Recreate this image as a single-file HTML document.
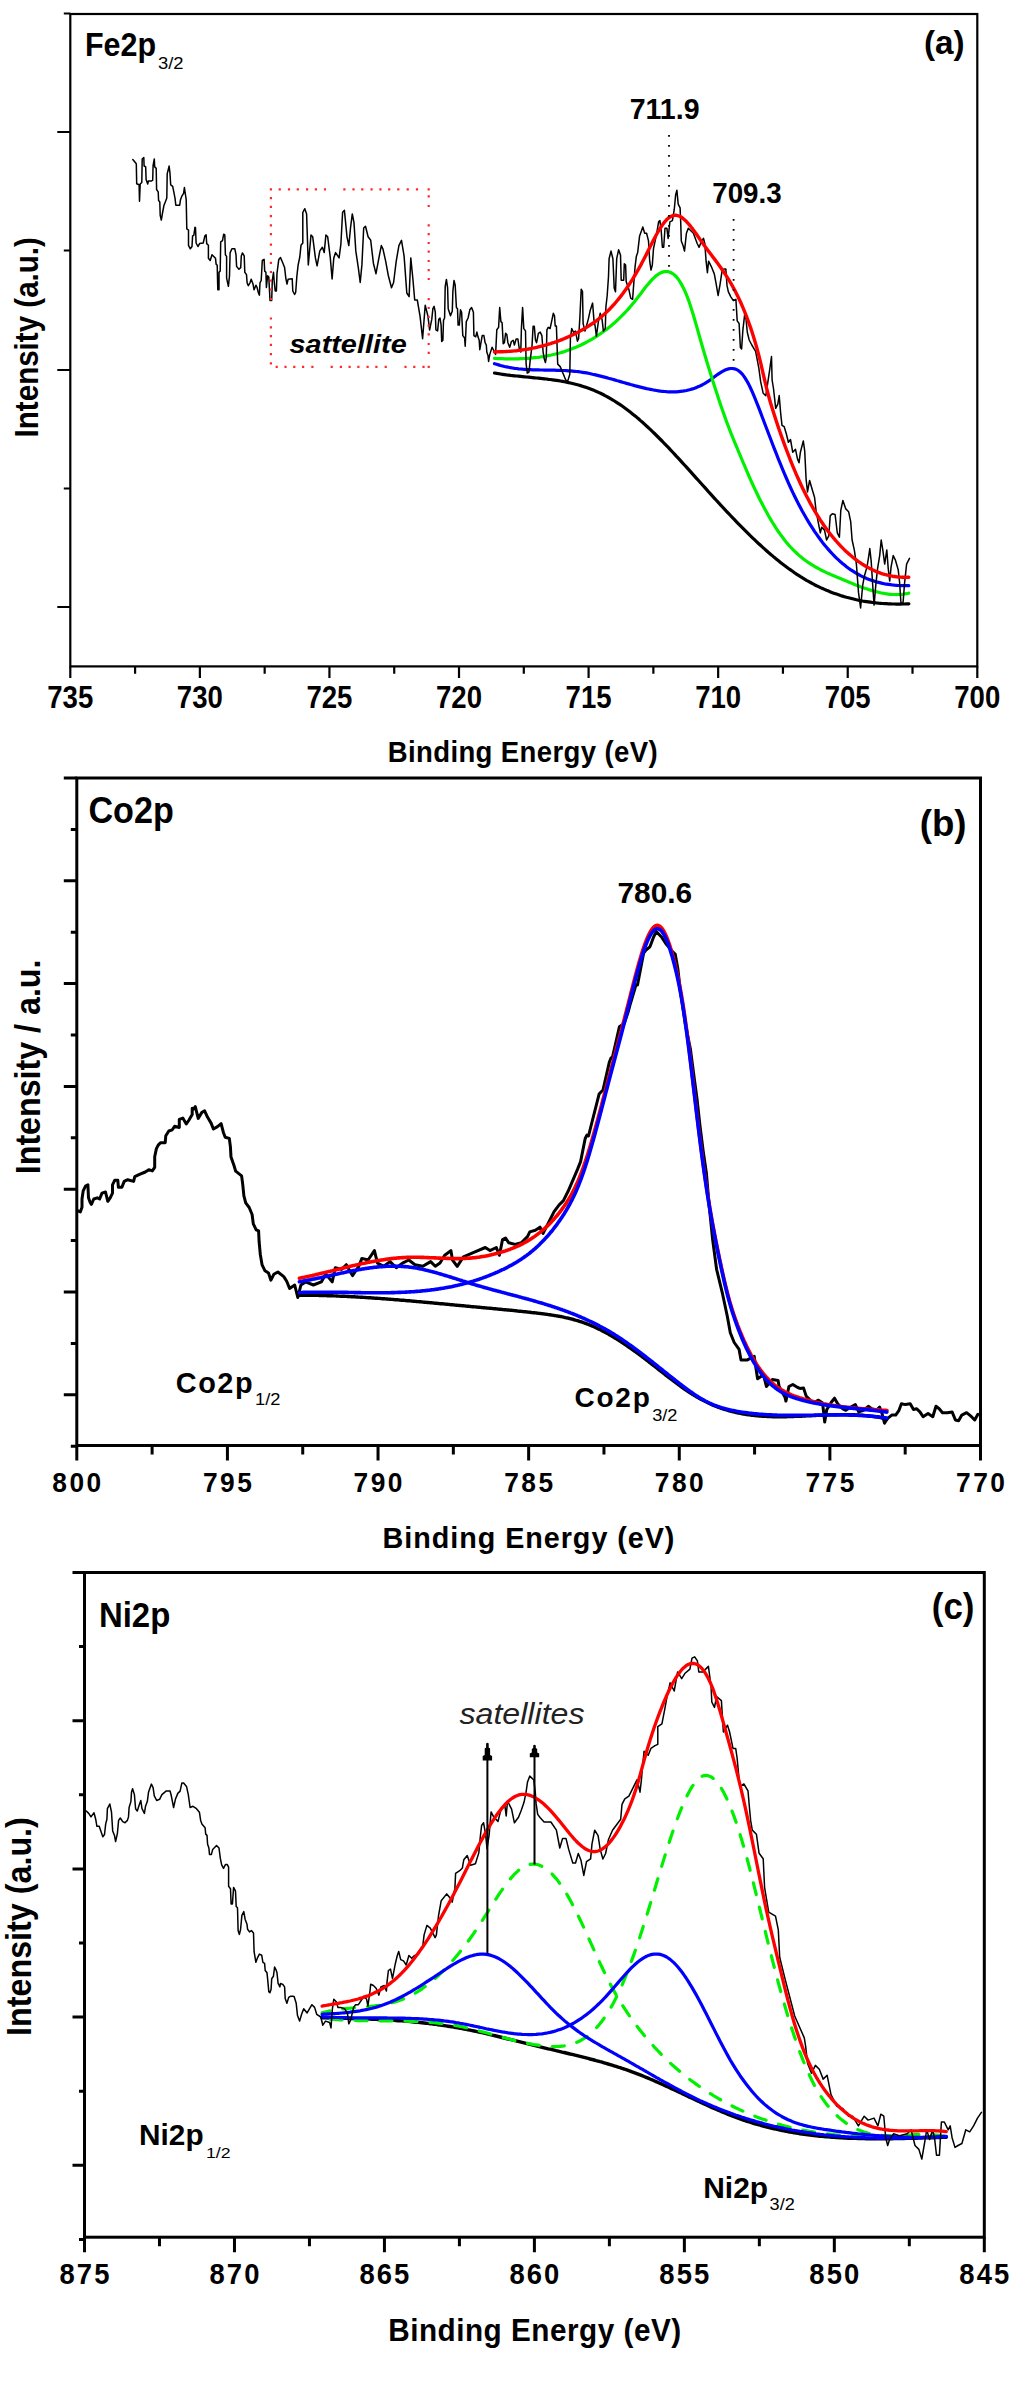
<!DOCTYPE html>
<html><head><meta charset="utf-8"><title>XPS spectra Fe2p Co2p Ni2p</title>
<style>html,body{margin:0;padding:0;background:#fff;}body{width:1024px;height:2381px;overflow:hidden;}svg{display:block;}</style>
</head><body><svg width="1024" height="2381" viewBox="0 0 1024 2381" font-family="Liberation Sans, Arial, sans-serif"><rect x="70.3" y="14.0" width="907.00" height="652.40" fill="none" stroke="#000" stroke-width="2.2"/><path d="M70.30,666.40v11.6M135.09,666.40v7.3M199.87,666.40v11.6M264.66,666.40v7.3M329.44,666.40v11.6M394.23,666.40v7.3M459.01,666.40v11.6M523.80,666.40v7.3M588.59,666.40v11.6M653.37,666.40v7.3M718.16,666.40v11.6M782.94,666.40v7.3M847.73,666.40v11.6M912.51,666.40v7.3M977.30,666.40v11.6M70.30,132.00h-13M70.30,370.00h-13M70.30,607.00h-13M70.30,13.50h-6.5M70.30,250.50h-6.5M70.30,488.50h-6.5" stroke="#000" stroke-width="2.2" fill="none"/><rect x="76.8" y="778.0" width="903.70" height="667.50" fill="none" stroke="#000" stroke-width="3.0"/><path d="M76.80,1445.50v15M152.11,1445.50v9M227.42,1445.50v15M302.73,1445.50v9M378.03,1445.50v15M453.34,1445.50v9M528.65,1445.50v15M603.96,1445.50v9M679.27,1445.50v15M754.58,1445.50v9M829.88,1445.50v15M905.19,1445.50v9M980.50,1445.50v15M76.80,778.00h-13M76.80,880.80h-13M76.80,983.60h-13M76.80,1086.40h-13M76.80,1189.20h-13M76.80,1292.00h-13M76.80,1394.80h-13M76.80,829.40h-6M76.80,932.20h-6M76.80,1035.00h-6M76.80,1137.80h-6M76.80,1240.60h-6M76.80,1343.40h-6M76.80,1446.20h-6" stroke="#000" stroke-width="3.0" fill="none"/><rect x="84.5" y="1572.5" width="899.80" height="664.70" fill="none" stroke="#000" stroke-width="3.0"/><path d="M84.50,2237.20v15M159.48,2237.20v9M234.47,2237.20v15M309.45,2237.20v9M384.43,2237.20v15M459.42,2237.20v9M534.40,2237.20v15M609.38,2237.20v9M684.37,2237.20v15M759.35,2237.20v9M834.33,2237.20v15M909.32,2237.20v9M984.30,2237.20v15M84.50,1572.50h-12M84.50,1720.70h-12M84.50,1868.90h-12M84.50,2017.10h-12M84.50,2165.30h-12M84.50,1646.60h-5.5M84.50,1794.80h-5.5M84.50,1943.00h-5.5M84.50,2091.20h-5.5M84.50,2239.40h-5.5" stroke="#000" stroke-width="3.0" fill="none"/><path d="M494.5,373.0 L496.5,373.3 L498.5,373.7 L500.5,374.0 L502.5,374.3 L504.5,374.6 L506.5,374.9 L508.5,375.1 L510.5,375.4 L512.5,375.6 L514.5,375.8 L516.5,376.0 L518.5,376.2 L520.5,376.4 L522.5,376.6 L524.5,376.8 L526.5,377.0 L528.5,377.2 L530.5,377.4 L532.5,377.6 L534.5,377.8 L536.5,378.0 L538.5,378.2 L540.5,378.4 L542.5,378.6 L544.5,378.8 L546.5,379.0 L548.5,379.3 L550.5,379.5 L552.5,379.8 L554.5,380.1 L556.5,380.4 L558.5,380.7 L560.5,381.0 L562.5,381.4 L564.5,381.8 L566.5,382.2 L568.5,382.6 L570.5,383.0 L572.5,383.5 L574.5,384.0 L576.5,384.5 L578.5,385.0 L580.5,385.6 L582.5,386.2 L584.5,386.9 L586.5,387.5 L588.5,388.2 L590.5,389.0 L592.5,389.8 L594.5,390.6 L596.5,391.5 L598.5,392.4 L600.5,393.3 L602.5,394.3 L604.5,395.3 L606.5,396.4 L608.5,397.5 L610.5,398.6 L612.5,399.8 L614.5,401.0 L616.5,402.3 L618.5,403.6 L620.5,404.9 L622.5,406.3 L624.5,407.7 L626.5,409.2 L628.5,410.7 L630.5,412.3 L632.5,413.9 L634.5,415.5 L636.5,417.1 L638.5,418.8 L640.5,420.6 L642.5,422.3 L644.5,424.1 L646.5,426.0 L648.5,427.8 L650.5,429.7 L652.5,431.6 L654.5,433.5 L656.5,435.5 L658.5,437.5 L660.5,439.5 L662.5,441.5 L664.5,443.6 L666.5,445.7 L668.5,447.7 L670.5,449.9 L672.5,452.0 L674.5,454.1 L676.5,456.3 L678.5,458.4 L680.5,460.6 L682.5,462.8 L684.5,465.0 L686.5,467.2 L688.5,469.4 L690.5,471.6 L692.5,473.8 L694.5,476.1 L696.5,478.3 L698.5,480.5 L700.5,482.8 L702.5,485.0 L704.5,487.2 L706.5,489.4 L708.5,491.7 L710.5,493.9 L712.5,496.1 L714.5,498.3 L716.5,500.5 L718.5,502.7 L720.5,504.8 L722.5,507.0 L724.5,509.2 L726.5,511.3 L728.5,513.4 L730.5,515.5 L732.5,517.7 L734.5,519.7 L736.5,521.8 L738.5,523.9 L740.5,525.9 L742.5,527.9 L744.5,529.9 L746.5,531.9 L748.5,533.9 L750.5,535.9 L752.5,537.8 L754.5,539.7 L756.5,541.6 L758.5,543.5 L760.5,545.3 L762.5,547.1 L764.5,548.9 L766.5,550.7 L768.5,552.5 L770.5,554.2 L772.5,555.9 L774.5,557.6 L776.5,559.2 L778.5,560.8 L780.5,562.4 L782.5,564.0 L784.5,565.5 L786.5,567.0 L788.5,568.5 L790.5,569.9 L792.5,571.3 L794.5,572.7 L796.5,574.1 L798.5,575.4 L800.5,576.7 L802.5,577.9 L804.5,579.1 L806.5,580.3 L808.5,581.4 L810.5,582.5 L812.5,583.6 L814.5,584.7 L816.5,585.7 L818.5,586.6 L820.5,587.6 L822.5,588.5 L824.5,589.4 L826.5,590.3 L828.5,591.1 L830.5,591.9 L832.5,592.7 L834.5,593.4 L836.5,594.1 L838.5,594.8 L840.5,595.5 L842.5,596.1 L844.5,596.7 L846.5,597.3 L848.5,597.8 L850.5,598.3 L852.5,598.8 L854.5,599.3 L856.5,599.8 L858.5,600.2 L860.5,600.6 L862.5,601.0 L864.5,601.3 L866.5,601.6 L868.5,601.9 L870.5,602.2 L872.5,602.5 L874.5,602.7 L876.5,603.0 L878.5,603.2 L880.5,603.3 L882.5,603.5 L884.5,603.6 L886.5,603.7 L888.5,603.8 L890.5,603.9 L892.5,604.0 L894.5,604.0 L896.5,604.1 L898.5,604.1 L900.5,604.1 L902.5,604.0 L904.5,604.0 L906.5,603.9 L908.5,603.9 L908.8,603.8" fill="none" stroke="#000" stroke-width="3.2" stroke-linejoin="round" stroke-linecap="round" /><path d="M494.5,363.7 L496.5,364.3 L498.5,364.9 L500.5,365.5 L502.5,366.0 L504.5,366.5 L506.5,366.9 L508.5,367.3 L510.5,367.7 L512.5,368.0 L514.5,368.3 L516.5,368.5 L518.5,368.8 L520.5,369.0 L522.5,369.2 L524.5,369.3 L526.5,369.5 L528.5,369.6 L530.5,369.7 L532.5,369.8 L534.5,369.8 L536.5,369.9 L538.5,369.9 L540.5,370.0 L542.5,370.0 L544.5,370.1 L546.5,370.1 L548.5,370.1 L550.5,370.1 L552.5,370.2 L554.5,370.2 L556.5,370.3 L558.5,370.3 L560.5,370.4 L562.5,370.5 L564.5,370.5 L566.5,370.6 L568.5,370.8 L570.5,370.9 L572.5,371.1 L574.5,371.3 L576.5,371.5 L578.5,371.7 L580.5,372.0 L582.5,372.3 L584.5,372.6 L586.5,372.9 L588.5,373.3 L590.5,373.7 L592.5,374.2 L594.5,374.6 L596.5,375.1 L598.5,375.6 L600.5,376.1 L602.5,376.6 L604.5,377.1 L606.5,377.6 L608.5,378.2 L610.5,378.7 L612.5,379.3 L614.5,379.9 L616.5,380.5 L618.5,381.0 L620.5,381.6 L622.5,382.2 L624.5,382.8 L626.5,383.4 L628.5,383.9 L630.5,384.5 L632.5,385.0 L634.5,385.6 L636.5,386.1 L638.5,386.6 L640.5,387.1 L642.5,387.6 L644.5,388.1 L646.5,388.6 L648.5,389.0 L650.5,389.4 L652.5,389.8 L654.5,390.2 L656.5,390.5 L658.5,390.8 L660.5,391.1 L662.5,391.3 L664.5,391.5 L666.5,391.7 L668.5,391.8 L670.5,391.8 L672.5,391.9 L674.5,391.8 L676.5,391.8 L678.5,391.6 L680.5,391.4 L682.5,391.2 L684.5,390.8 L686.5,390.5 L688.5,390.0 L690.5,389.5 L692.5,388.9 L694.5,388.2 L696.5,387.4 L698.5,386.6 L700.5,385.7 L702.5,384.7 L704.5,383.6 L706.5,382.4 L708.5,381.1 L710.5,379.7 L712.5,378.3 L714.5,376.8 L716.5,375.3 L718.5,373.9 L720.5,372.6 L722.5,371.4 L724.5,370.3 L726.5,369.5 L728.5,368.9 L730.5,368.5 L732.5,368.5 L734.5,368.8 L736.5,369.5 L738.5,370.7 L740.5,372.3 L742.5,374.4 L744.5,377.1 L746.5,380.3 L748.5,383.9 L750.5,388.0 L752.5,392.4 L754.5,397.1 L756.5,402.1 L758.5,407.2 L760.5,412.4 L762.5,417.7 L764.5,423.0 L766.5,428.2 L768.5,433.5 L770.5,438.7 L772.5,444.0 L774.5,449.1 L776.5,454.2 L778.5,459.3 L780.5,464.2 L782.5,469.1 L784.5,473.9 L786.5,478.5 L788.5,483.1 L790.5,487.5 L792.5,491.8 L794.5,496.0 L796.5,500.0 L798.5,504.0 L800.5,507.8 L802.5,511.5 L804.5,515.0 L806.5,518.5 L808.5,521.9 L810.5,525.1 L812.5,528.2 L814.5,531.3 L816.5,534.2 L818.5,537.0 L820.5,539.7 L822.5,542.4 L824.5,544.9 L826.5,547.3 L828.5,549.6 L830.5,551.9 L832.5,554.0 L834.5,556.1 L836.5,558.1 L838.5,559.9 L840.5,561.8 L842.5,563.5 L844.5,565.1 L846.5,566.7 L848.5,568.2 L850.5,569.6 L852.5,570.9 L854.5,572.2 L856.5,573.4 L858.5,574.5 L860.5,575.6 L862.5,576.6 L864.5,577.5 L866.5,578.4 L868.5,579.2 L870.5,579.9 L872.5,580.6 L874.5,581.3 L876.5,581.9 L878.5,582.4 L880.5,582.9 L882.5,583.4 L884.5,583.8 L886.5,584.1 L888.5,584.4 L890.5,584.7 L892.5,585.0 L894.5,585.2 L896.5,585.3 L898.5,585.5 L900.5,585.6 L902.5,585.6 L904.5,585.7 L906.5,585.7 L908.5,585.7 L908.8,585.7" fill="none" stroke="#0000ff" stroke-width="3.2" stroke-linejoin="round" stroke-linecap="round" /><path d="M494.5,358.4 L496.5,358.5 L498.5,358.6 L500.5,358.7 L502.5,358.7 L504.5,358.8 L506.5,358.8 L508.5,358.9 L510.5,358.9 L512.5,358.9 L514.5,358.9 L516.5,358.8 L518.5,358.8 L520.5,358.7 L522.5,358.6 L524.5,358.5 L526.5,358.4 L528.5,358.3 L530.5,358.1 L532.5,357.9 L534.5,357.7 L536.5,357.5 L538.5,357.3 L540.5,357.0 L542.5,356.7 L544.5,356.3 L546.5,356.0 L548.5,355.6 L550.5,355.2 L552.5,354.7 L554.5,354.3 L556.5,353.8 L558.5,353.2 L560.5,352.7 L562.5,352.1 L564.5,351.5 L566.5,350.8 L568.5,350.1 L570.5,349.4 L572.5,348.6 L574.5,347.8 L576.5,347.0 L578.5,346.1 L580.5,345.2 L582.5,344.2 L584.5,343.2 L586.5,342.2 L588.5,341.1 L590.5,340.0 L592.5,338.8 L594.5,337.6 L596.5,336.3 L598.5,335.0 L600.5,333.7 L602.5,332.3 L604.5,330.8 L606.5,329.4 L608.5,327.8 L610.5,326.2 L612.5,324.5 L614.5,322.8 L616.5,321.0 L618.5,319.1 L620.5,317.2 L622.5,315.2 L624.5,313.1 L626.5,311.0 L628.5,308.8 L630.5,306.5 L632.5,304.1 L634.5,301.7 L636.5,299.1 L638.5,296.5 L640.5,293.9 L642.5,291.2 L644.5,288.6 L646.5,286.1 L648.5,283.7 L650.5,281.4 L652.5,279.2 L654.5,277.3 L656.5,275.5 L658.5,274.1 L660.5,272.9 L662.5,272.1 L664.5,271.6 L666.5,271.5 L668.5,271.7 L670.5,272.4 L672.5,273.5 L674.5,275.0 L676.5,277.0 L678.5,279.5 L680.5,282.6 L682.5,286.1 L684.5,290.2 L686.5,294.9 L688.5,300.1 L690.5,306.0 L692.5,312.3 L694.5,319.0 L696.5,325.9 L698.5,333.0 L700.5,340.0 L702.5,347.0 L704.5,353.8 L706.5,360.5 L708.5,367.1 L710.5,373.5 L712.5,379.9 L714.5,386.2 L716.5,392.3 L718.5,398.4 L720.5,404.4 L722.5,410.2 L724.5,415.9 L726.5,421.5 L728.5,426.8 L730.5,432.0 L732.5,437.0 L734.5,441.9 L736.5,446.7 L738.5,451.5 L740.5,456.2 L742.5,461.0 L744.5,465.7 L746.5,470.4 L748.5,475.0 L750.5,479.6 L752.5,484.0 L754.5,488.3 L756.5,492.5 L758.5,496.7 L760.5,500.7 L762.5,504.6 L764.5,508.4 L766.5,512.1 L768.5,515.7 L770.5,519.1 L772.5,522.5 L774.5,525.7 L776.5,528.8 L778.5,531.8 L780.5,534.6 L782.5,537.3 L784.5,539.9 L786.5,542.4 L788.5,544.8 L790.5,547.0 L792.5,549.1 L794.5,551.1 L796.5,553.0 L798.5,554.9 L800.5,556.6 L802.5,558.2 L804.5,559.8 L806.5,561.2 L808.5,562.6 L810.5,563.9 L812.5,565.2 L814.5,566.4 L816.5,567.5 L818.5,568.6 L820.5,569.7 L822.5,570.7 L824.5,571.6 L826.5,572.6 L828.5,573.5 L830.5,574.4 L832.5,575.2 L834.5,576.1 L836.5,576.9 L838.5,577.7 L840.5,578.6 L842.5,579.4 L844.5,580.2 L846.5,581.1 L848.5,581.9 L850.5,582.7 L852.5,583.6 L854.5,584.4 L856.5,585.2 L858.5,585.9 L860.5,586.7 L862.5,587.4 L864.5,588.2 L866.5,588.8 L868.5,589.5 L870.5,590.1 L872.5,590.7 L874.5,591.3 L876.5,591.8 L878.5,592.3 L880.5,592.8 L882.5,593.2 L884.5,593.5 L886.5,593.8 L888.5,594.1 L890.5,594.3 L892.5,594.5 L894.5,594.5 L896.5,594.6 L898.5,594.5 L900.5,594.4 L902.5,594.3 L904.5,594.0 L906.5,593.7 L908.5,593.3 L908.8,593.2" fill="none" stroke="#00f000" stroke-width="3.2" stroke-linejoin="round" stroke-linecap="round" /><path d="M132.8,159.5 L136.3,163.8 L136.7,183.7 L139.1,184.8 L139.5,201.2 L140.2,184.0 L141.8,182.5 L142.2,159.0 L143.8,157.5 L144.1,166.0 L145.7,166.9 L146.1,179.4 L147.7,184.0 L148.4,181.0 L151.6,181.0 L152.7,180.2 L153.1,165.3 L154.3,159.0 L154.7,166.9 L156.2,168.4 L156.6,189.5 L158.2,191.9 L158.6,200.5 L159.8,202.0 L160.2,215.3 L161.3,220.0 L162.5,213.0 L164.0,205.2 L165.6,201.2 L166.8,198.1 L167.2,173.9 L169.1,166.1 L169.9,172.3 L170.7,184.8 L172.7,186.4 L173.8,191.9 L175.0,198.1 L175.8,205.2 L179.7,205.2 L180.5,199.7 L182.0,195.8 L183.6,193.4 L184.4,187.6 L185.5,195.0 L186.2,199.6 L186.8,228.9 L188.5,230.1 L188.5,245.3 L190.3,248.8 L192.0,246.5 L192.6,235.9 L193.8,235.4 L195.0,227.2 L195.5,227.7 L196.1,243.0 L197.9,246.5 L199.6,243.6 L203.2,243.0 L204.9,235.9 L206.1,234.8 L206.7,243.6 L208.4,245.3 L208.4,258.2 L210.2,260.5 L212.0,254.7 L215.5,258.2 L216.1,264.1 L217.2,265.2 L217.8,289.8 L219.0,289.8 L219.0,272.3 L220.2,271.1 L220.7,241.8 L222.5,240.6 L223.7,234.2 L224.8,234.8 L225.4,254.7 L226.6,256.4 L226.6,278.1 L228.4,286.3 L229.5,275.8 L230.1,252.9 L231.9,248.8 L234.8,248.8 L236.0,254.7 L236.6,266.4 L238.9,269.3 L240.7,267.6 L241.3,255.9 L242.4,252.9 L244.2,255.9 L244.8,272.3 L246.5,274.6 L247.1,282.8 L248.3,285.7 L250.0,282.8 L251.2,279.3 L253.0,284.0 L254.1,289.8 L255.9,285.2 L257.1,287.5 L258.2,292.2 L259.4,295.1 L260.0,282.8 L261.2,280.5 L262.3,260.5 L264.1,259.4 L264.7,271.1 L265.9,272.3 L266.4,287.5 L267.6,275.8 L268.8,277.0 L270.0,300.4 L271.7,300.4 L272.3,280.5 L273.5,272.3 L274.1,280.5 L275.2,291.0 L276.4,291.0 L277.0,273.4 L278.8,259.4 L280.5,257.6 L282.3,261.7 L284.6,267.6 L285.8,278.1 L287.0,284.0 L288.1,279.3 L292.2,278.7 L292.8,291.0 L294.6,294.5 L295.7,292.2 L296.9,275.8 L298.1,265.2 L299.8,257.0 L301.0,245.3 L302.8,243.0 L302.8,212.5 L304.8,208.7 L306.6,214.0 L308.3,264.9 L311.0,235.0 L312.7,236.8 L315.4,257.9 L317.1,265.8 L319.8,250.9 L322.4,247.3 L324.2,252.6 L325.9,235.0 L327.7,236.8 L330.3,257.9 L332.1,279.0 L333.8,257.9 L335.6,252.6 L339.1,257.9 L340.9,243.8 L342.6,212.2 L344.4,210.4 L347.0,236.8 L348.8,245.6 L350.5,228.0 L352.3,213.9 L354.0,222.7 L355.8,250.9 L358.4,268.4 L360.2,282.5 L361.9,264.9 L363.7,228.0 L365.5,226.2 L368.1,236.8 L370.7,240.3 L373.4,263.2 L376.0,273.7 L378.6,259.6 L381.3,245.6 L383.0,249.1 L385.7,261.4 L388.3,275.5 L391.5,287.8 L393.6,282.5 L396.2,261.4 L398.9,245.6 L401.5,240.3 L404.1,256.1 L406.8,293.0 L409.1,296.6 L410.8,257.9 L412.9,279.0 L414.7,300.0 L417.3,300.0 L420.0,315.9 L422.6,338.7 L425.2,305.3 L427.9,315.9 L429.6,330.0 L431.8,319.2 L432.9,308.7 L434.1,306.3 L435.3,312.2 L435.9,329.8 L437.6,330.9 L438.8,319.2 L440.0,318.0 L441.1,325.1 L441.7,341.5 L442.9,340.3 L443.5,320.4 L444.6,318.0 L445.2,286.4 L446.4,279.4 L447.6,287.6 L448.2,308.7 L450.5,315.7 L452.3,311.0 L452.9,291.1 L454.0,280.5 L455.2,285.2 L456.4,307.5 L457.5,308.7 L458.1,325.1 L459.3,325.1 L460.5,309.8 L461.6,312.2 L462.8,335.6 L464.6,338.0 L465.2,346.2 L466.3,321.6 L468.1,318.0 L469.8,309.8 L471.6,307.5 L473.4,312.2 L473.9,335.6 L475.7,336.8 L476.9,332.1 L478.0,336.8 L479.2,340.3 L479.8,349.7 L481.0,342.7 L482.2,335.6 L483.9,335.6 L485.1,342.7 L486.3,345.0 L486.8,352.0 L488.0,355.5 L488.6,361.4 L489.8,354.4 L490.9,350.9 L492.1,347.3 L493.3,349.7 L494.5,352.0 L495.6,354.4 L496.8,329.8 L498.6,327.4 L499.7,307.5 L500.9,321.6 L502.1,322.7 L503.2,343.8 L504.4,342.7 L505.6,333.3 L506.8,334.5 L507.9,342.7 L509.7,347.3 L511.4,341.5 L513.2,340.3 L514.4,345.0 L516.1,339.1 L517.9,339.1 L519.6,350.9 L520.8,352.0 L521.4,328.6 L522.6,307.5 L523.8,328.6 L525.5,330.9 L526.1,363.8 L527.3,373.1 L529.0,372.0 L530.2,360.2 L532.0,346.2 L533.1,326.3 L534.3,326.3 L535.5,340.3 L536.6,342.7 L538.4,333.3 L540.2,332.1 L541.9,335.6 L543.1,352.0 L544.3,359.1 L545.4,362.6 L546.3,357.7 L546.9,329.8 L548.2,327.3 L550.1,328.5 L552.0,319.6 L553.3,313.3 L554.5,315.8 L555.2,326.0 L556.4,326.0 L557.7,364.1 L560.2,366.6 L563.4,374.2 L565.9,380.6 L567.9,380.6 L569.8,374.2 L570.4,338.7 L571.7,328.5 L573.6,332.3 L575.5,331.1 L577.4,341.2 L578.6,338.7 L579.9,317.1 L581.2,289.2 L582.5,291.7 L583.1,323.5 L585.0,331.1 L588.2,319.6 L590.1,310.8 L592.6,303.1 L593.9,319.6 L595.1,326.0 L596.4,336.2 L598.3,322.2 L600.2,313.3 L602.1,319.6 L603.4,331.1 L605.3,328.5 L605.9,307.0 L607.2,295.5 L608.5,276.5 L609.1,258.7 L611.0,251.1 L612.9,258.7 L614.2,287.9 L615.5,291.7 L616.7,258.7 L618.6,249.8 L620.5,254.9 L621.2,280.3 L623.7,280.3 L624.3,263.8 L625.6,265.1 L626.2,281.6 L628.8,289.2 L630.7,298.1 L632.6,299.3 L633.9,281.6 L635.1,266.3 L636.4,256.2 L637.7,252.4 L639.6,235.9 L641.5,230.8 L642.8,227.0 L644.7,233.3 L646.6,233.3 L648.5,240.9 L649.7,261.2 L651.0,270.1 L652.3,265.1 L653.5,248.6 L655.4,239.7 L656.7,233.3 L658.6,221.9 L659.9,220.6 L661.2,230.8 L662.4,247.3 L663.7,247.3 L665.0,228.2 L666.9,228.2 L668.1,238.4 L669.9,221.9 L672.4,220.6 L674.3,209.2 L675.6,195.2 L676.9,190.2 L678.2,204.1 L680.1,207.9 L680.7,221.9 L681.3,240.9 L683.2,246.0 L684.5,251.1 L686.4,233.3 L688.3,228.2 L693.4,233.3 L697.2,243.5 L699.1,247.3 L701.6,240.9 L703.5,238.4 L704.8,243.5 L706.1,261.2 L707.4,272.7 L708.6,261.2 L711.2,266.3 L714.3,273.9 L716.2,284.1 L718.1,295.5 L720.1,284.1 L722.0,271.4 L723.9,268.9 L725.8,268.9 L727.0,285.4 L728.3,291.7 L730.8,296.8 L733.4,300.6 L735.9,299.3 L737.2,320.9 L739.1,323.5 L740.4,347.6 L741.6,348.9 L742.9,329.8 L744.8,313.3 L746.1,319.6 L747.3,332.3 L749.2,340.0 L751.8,345.0 L755.6,351.4 L758.8,367.9 L760.7,381.9 L763.2,393.3 L765.8,395.8 L767.7,383.1 L769.6,370.4 L771.5,356.5 L772.1,380.0 L773.5,388.5 L775.7,408.3 L777.8,404.1 L779.2,395.6 L780.6,412.6 L782.0,425.3 L784.2,426.7 L786.3,433.8 L788.4,442.3 L790.5,439.5 L792.7,452.2 L795.5,449.4 L797.6,459.3 L799.0,462.8 L800.4,452.2 L803.3,440.9 L804.7,450.8 L806.1,479.1 L807.5,491.9 L809.6,480.5 L812.5,490.5 L814.6,497.5 L816.0,510.3 L818.1,521.6 L820.3,532.9 L821.7,527.3 L824.5,530.1 L826.6,540.0 L828.8,535.8 L830.2,515.9 L832.3,513.8 L835.1,514.5 L837.3,532.9 L839.4,537.2 L840.8,510.3 L842.9,500.4 L845.8,508.9 L848.6,511.7 L850.7,521.6 L852.1,540.0 L854.3,549.9 L856.4,564.1 L858.5,592.4 L860.6,608.0 L862.7,585.3 L864.2,576.8 L867.0,566.9 L868.4,558.4 L869.8,548.5 L871.2,561.3 L872.7,585.3 L874.1,605.1 L875.9,583.9 L877.6,568.3 L879.7,555.6 L881.2,540.0 L882.6,548.5 L884.7,564.1 L886.8,549.9 L888.2,568.3 L889.7,581.1 L891.1,566.9 L893.2,555.6 L895.3,559.8 L898.2,569.7 L899.6,582.5 L901.0,603.7 L903.1,602.3 L904.5,583.9 L906.6,564.1 L909.5,558.4" fill="none" stroke="#000" stroke-width="1.5" stroke-linejoin="round" stroke-linecap="round" stroke-linecap="butt"/><path d="M494.5,351.9 L496.5,351.9 L498.5,351.8 L500.5,351.8 L502.5,351.7 L504.5,351.6 L506.5,351.5 L508.5,351.4 L510.5,351.2 L512.5,351.1 L514.5,350.9 L516.5,350.7 L518.5,350.4 L520.5,350.2 L522.5,349.9 L524.5,349.6 L526.5,349.3 L528.5,349.0 L530.5,348.6 L532.5,348.2 L534.5,347.8 L536.5,347.4 L538.5,346.9 L540.5,346.4 L542.5,345.9 L544.5,345.4 L546.5,344.8 L548.5,344.2 L550.5,343.6 L552.5,342.9 L554.5,342.3 L556.5,341.6 L558.5,340.8 L560.5,340.1 L562.5,339.3 L564.5,338.5 L566.5,337.6 L568.5,336.7 L570.5,335.8 L572.5,334.9 L574.5,333.9 L576.5,332.9 L578.5,331.9 L580.5,330.8 L582.5,329.7 L584.5,328.6 L586.5,327.4 L588.5,326.1 L590.5,324.8 L592.5,323.5 L594.5,322.1 L596.5,320.6 L598.5,319.0 L600.5,317.4 L602.5,315.7 L604.5,314.0 L606.5,312.1 L608.5,310.2 L610.5,308.2 L612.5,306.0 L614.5,303.8 L616.5,301.5 L618.5,299.1 L620.5,296.6 L622.5,294.0 L624.5,291.2 L626.5,288.4 L628.5,285.5 L630.5,282.4 L632.5,279.3 L634.5,276.0 L636.5,272.6 L638.5,269.2 L640.5,265.6 L642.5,261.8 L644.5,258.0 L646.5,254.1 L648.5,250.1 L650.5,246.1 L652.5,242.1 L654.5,238.2 L656.5,234.5 L658.5,231.0 L660.5,227.7 L662.5,224.7 L664.5,222.1 L666.5,219.8 L668.5,218.0 L670.5,216.6 L672.5,215.7 L674.5,215.3 L676.5,215.3 L678.5,215.8 L680.5,216.7 L682.5,218.0 L684.5,219.7 L686.5,221.6 L688.5,223.8 L690.5,226.2 L692.5,228.8 L694.5,231.5 L696.5,234.3 L698.5,237.2 L700.5,240.1 L702.5,243.0 L704.5,245.7 L706.5,248.5 L708.5,251.2 L710.5,253.8 L712.5,256.5 L714.5,259.1 L716.5,261.8 L718.5,264.5 L720.5,267.3 L722.5,270.2 L724.5,273.1 L726.5,276.2 L728.5,279.4 L730.5,282.7 L732.5,286.2 L734.5,289.8 L736.5,293.7 L738.5,297.8 L740.5,302.0 L742.5,306.6 L744.5,311.4 L746.5,316.4 L748.5,321.8 L750.5,327.4 L752.5,333.5 L754.5,339.9 L756.5,346.8 L758.5,354.2 L760.5,362.2 L762.5,370.8 L764.5,379.5 L766.5,387.8 L768.5,395.5 L770.5,402.7 L772.5,409.3 L774.5,415.6 L776.5,421.8 L778.5,427.7 L780.5,433.5 L782.5,439.1 L784.5,444.6 L786.5,450.0 L788.5,455.2 L790.5,460.3 L792.5,465.3 L794.5,470.1 L796.5,474.8 L798.5,479.3 L800.5,483.7 L802.5,487.9 L804.5,492.0 L806.5,496.0 L808.5,499.8 L810.5,503.6 L812.5,507.1 L814.5,510.6 L816.5,514.0 L818.5,517.2 L820.5,520.3 L822.5,523.3 L824.5,526.2 L826.5,529.0 L828.5,531.7 L830.5,534.3 L832.5,536.8 L834.5,539.2 L836.5,541.5 L838.5,543.7 L840.5,545.8 L842.5,547.9 L844.5,549.9 L846.5,551.8 L848.5,553.6 L850.5,555.3 L852.5,557.0 L854.5,558.6 L856.5,560.1 L858.5,561.6 L860.5,562.9 L862.5,564.3 L864.5,565.5 L866.5,566.7 L868.5,567.8 L870.5,568.8 L872.5,569.8 L874.5,570.7 L876.5,571.6 L878.5,572.4 L880.5,573.1 L882.5,573.8 L884.5,574.4 L886.5,574.9 L888.5,575.4 L890.5,575.8 L892.5,576.2 L894.5,576.5 L896.5,576.8 L898.5,577.0 L900.5,577.1 L902.5,577.2 L904.5,577.3 L906.5,577.3 L908.5,577.3 L908.8,577.3" fill="none" stroke="#ff0000" stroke-width="3.4" stroke-linejoin="round" stroke-linecap="round" /><path d="M669,135V272M733.6,219V366" stroke="#000" stroke-width="1.8" stroke-dasharray="1.8 8.2" fill="none"/><path d="M269.8,188.2h2.2v2.2h-2.2zM278.6,188.2h2.2v2.2h-2.2zM287.9,188.2h2.2v2.2h-2.2zM296.7,188.2h2.2v2.2h-2.2zM306.0,188.2h2.2v2.2h-2.2zM314.8,188.2h2.2v2.2h-2.2zM323.9,188.2h2.2v2.2h-2.2zM343.3,188.2h2.2v2.2h-2.2zM352.4,188.2h2.2v2.2h-2.2zM361.2,188.2h2.2v2.2h-2.2zM370.5,188.2h2.2v2.2h-2.2zM379.3,188.2h2.2v2.2h-2.2zM388.1,188.2h2.2v2.2h-2.2zM397.2,188.2h2.2v2.2h-2.2zM406.6,188.2h2.2v2.2h-2.2zM415.9,188.2h2.2v2.2h-2.2zM427.6,188.2h2.2v2.2h-2.2zM269.8,197.0h2.2v2.2h-2.2zM269.8,205.8h2.2v2.2h-2.2zM269.8,215.0h2.2v2.2h-2.2zM269.8,224.3h2.2v2.2h-2.2zM269.8,233.1h2.2v2.2h-2.2zM269.8,243.6h2.2v2.2h-2.2zM269.8,252.9h2.2v2.2h-2.2zM269.8,261.7h2.2v2.2h-2.2zM269.8,270.9h2.2v2.2h-2.2zM269.8,279.6h2.2v2.2h-2.2zM269.8,288.4h2.2v2.2h-2.2zM269.8,298.1h2.2v2.2h-2.2zM269.8,317.4h2.2v2.2h-2.2zM269.8,326.2h2.2v2.2h-2.2zM269.8,335.0h2.2v2.2h-2.2zM269.8,343.8h2.2v2.2h-2.2zM269.8,353.1h2.2v2.2h-2.2zM269.8,362.3h2.2v2.2h-2.2zM275.6,365.8h2.2v2.2h-2.2zM284.4,365.8h2.2v2.2h-2.2zM293.2,365.8h2.2v2.2h-2.2zM302.0,365.8h2.2v2.2h-2.2zM311.3,365.8h2.2v2.2h-2.2zM330.6,365.8h2.2v2.2h-2.2zM339.8,365.8h2.2v2.2h-2.2zM348.5,365.8h2.2v2.2h-2.2zM357.3,365.8h2.2v2.2h-2.2zM366.5,365.8h2.2v2.2h-2.2zM375.3,365.8h2.2v2.2h-2.2zM384.6,365.8h2.2v2.2h-2.2zM404.4,365.8h2.2v2.2h-2.2zM413.2,365.8h2.2v2.2h-2.2zM422.4,365.8h2.2v2.2h-2.2zM427.6,365.8h2.2v2.2h-2.2zM427.6,195.3h2.2v2.2h-2.2zM427.6,204.9h2.2v2.2h-2.2zM427.6,224.3h2.2v2.2h-2.2zM427.6,233.1h2.2v2.2h-2.2zM427.6,241.9h2.2v2.2h-2.2zM427.6,250.6h2.2v2.2h-2.2zM427.6,259.9h2.2v2.2h-2.2zM427.6,269.1h2.2v2.2h-2.2zM427.6,277.9h2.2v2.2h-2.2zM427.6,298.1h2.2v2.2h-2.2zM427.6,306.9h2.2v2.2h-2.2zM427.6,315.7h2.2v2.2h-2.2zM427.6,324.5h2.2v2.2h-2.2zM427.6,333.3h2.2v2.2h-2.2zM427.6,342.9h2.2v2.2h-2.2zM427.6,351.7h2.2v2.2h-2.2z" fill="#ff2a2a"/><path d="M299.4,1295.2 L300.4,1295.2 L301.4,1295.2 L302.4,1295.2 L303.4,1295.2 L304.4,1295.2 L305.4,1295.2 L306.4,1295.3 L307.4,1295.3 L308.4,1295.3 L309.4,1295.3 L310.4,1295.3 L311.4,1295.3 L312.4,1295.3 L313.4,1295.3 L314.4,1295.4 L315.4,1295.4 L316.4,1295.4 L317.4,1295.4 L318.4,1295.4 L319.4,1295.5 L320.4,1295.5 L321.4,1295.5 L322.4,1295.5 L323.4,1295.6 L324.4,1295.6 L325.4,1295.6 L326.4,1295.6 L327.4,1295.7 L328.4,1295.7 L329.4,1295.7 L330.4,1295.8 L331.4,1295.8 L332.4,1295.8 L333.4,1295.9 L334.4,1295.9 L335.4,1295.9 L336.4,1296.0 L337.4,1296.0 L338.4,1296.1 L339.4,1296.1 L340.4,1296.2 L341.4,1296.2 L342.4,1296.2 L343.4,1296.3 L344.4,1296.3 L345.4,1296.4 L346.4,1296.4 L347.4,1296.5 L348.4,1296.5 L349.4,1296.6 L350.4,1296.6 L351.4,1296.7 L352.4,1296.7 L353.4,1296.8 L354.4,1296.8 L355.4,1296.9 L356.4,1297.0 L357.4,1297.0 L358.4,1297.1 L359.4,1297.1 L360.4,1297.2 L361.4,1297.2 L362.4,1297.3 L363.4,1297.4 L364.4,1297.4 L365.4,1297.5 L366.4,1297.6 L367.4,1297.6 L368.4,1297.7 L369.4,1297.8 L370.4,1297.8 L371.4,1297.9 L372.4,1298.0 L373.4,1298.0 L374.4,1298.1 L375.4,1298.2 L376.4,1298.2 L377.4,1298.3 L378.4,1298.4 L379.4,1298.4 L380.4,1298.5 L381.4,1298.6 L382.4,1298.7 L383.4,1298.7 L384.4,1298.8 L385.4,1298.9 L386.4,1299.0 L387.4,1299.0 L388.4,1299.1 L389.4,1299.2 L390.4,1299.3 L391.4,1299.4 L392.4,1299.4 L393.4,1299.5 L394.4,1299.6 L395.4,1299.7 L396.4,1299.8 L397.4,1299.8 L398.4,1299.9 L399.4,1300.0 L400.4,1300.1 L401.4,1300.2 L402.4,1300.3 L403.4,1300.3 L404.4,1300.4 L405.4,1300.5 L406.4,1300.6 L407.4,1300.7 L408.4,1300.8 L409.4,1300.8 L410.4,1300.9 L411.4,1301.0 L412.4,1301.1 L413.4,1301.2 L414.4,1301.3 L415.4,1301.4 L416.4,1301.5 L417.4,1301.6 L418.4,1301.6 L419.4,1301.7 L420.4,1301.8 L421.4,1301.9 L422.4,1302.0 L423.4,1302.1 L424.4,1302.2 L425.4,1302.3 L426.4,1302.4 L427.4,1302.5 L428.4,1302.5 L429.4,1302.6 L430.4,1302.7 L431.4,1302.8 L432.4,1302.9 L433.4,1303.0 L434.4,1303.1 L435.4,1303.2 L436.4,1303.3 L437.4,1303.4 L438.4,1303.5 L439.4,1303.6 L440.4,1303.7 L441.4,1303.8 L442.4,1303.8 L443.4,1303.9 L444.4,1304.0 L445.4,1304.1 L446.4,1304.2 L447.4,1304.3 L448.4,1304.4 L449.4,1304.5 L450.4,1304.6 L451.4,1304.7 L452.4,1304.8 L453.4,1304.9 L454.4,1305.0 L455.4,1305.1 L456.4,1305.2 L457.4,1305.3 L458.4,1305.4 L459.4,1305.5 L460.4,1305.5 L461.4,1305.6 L462.4,1305.7 L463.4,1305.8 L464.4,1305.9 L465.4,1306.0 L466.4,1306.1 L467.4,1306.2 L468.4,1306.3 L469.4,1306.4 L470.4,1306.5 L471.4,1306.6 L472.4,1306.7 L473.4,1306.8 L474.4,1306.9 L475.4,1306.9 L476.4,1307.0 L477.4,1307.1 L478.4,1307.2 L479.4,1307.3 L480.4,1307.4 L481.4,1307.5 L482.4,1307.6 L483.4,1307.7 L484.4,1307.8 L485.4,1307.9 L486.4,1308.0 L487.4,1308.1 L488.4,1308.1 L489.4,1308.2 L490.4,1308.3 L491.4,1308.4 L492.4,1308.5 L493.4,1308.6 L494.4,1308.7 L495.4,1308.8 L496.4,1308.9 L497.4,1309.0 L498.4,1309.1 L499.4,1309.2 L500.4,1309.3 L501.4,1309.4 L502.4,1309.5 L503.4,1309.6 L504.4,1309.7 L505.4,1309.8 L506.4,1309.9 L507.4,1310.0 L508.4,1310.0 L509.4,1310.1 L510.4,1310.2 L511.4,1310.3 L512.4,1310.4 L513.4,1310.5 L514.4,1310.6 L515.4,1310.7 L516.4,1310.8 L517.4,1311.0 L518.4,1311.1 L519.4,1311.2 L520.4,1311.3 L521.4,1311.4 L522.4,1311.5 L523.4,1311.6 L524.4,1311.7 L525.4,1311.8 L526.4,1311.9 L527.4,1312.0 L528.4,1312.1 L529.4,1312.2 L530.4,1312.3 L531.4,1312.5 L532.4,1312.6 L533.4,1312.7 L534.4,1312.8 L535.4,1312.9 L536.4,1313.0 L537.4,1313.1 L538.4,1313.3 L539.4,1313.4 L540.4,1313.5 L541.4,1313.6 L542.4,1313.7 L543.4,1313.9 L544.4,1314.0 L545.4,1314.1 L546.4,1314.3 L547.4,1314.4 L548.4,1314.6 L549.4,1314.7 L550.4,1314.8 L551.4,1315.0 L552.4,1315.1 L553.4,1315.3 L554.4,1315.5 L555.4,1315.6 L556.4,1315.8 L557.4,1316.0 L558.4,1316.2 L559.4,1316.3 L560.4,1316.5 L561.4,1316.7 L562.4,1316.9 L563.4,1317.1 L564.4,1317.3 L565.4,1317.6 L566.4,1317.8 L567.4,1318.0 L568.4,1318.2 L569.4,1318.5 L570.4,1318.7 L571.4,1319.0 L572.4,1319.2 L573.4,1319.5 L574.4,1319.8 L575.4,1320.1 L576.4,1320.3 L577.4,1320.6 L578.4,1320.9 L579.4,1321.3 L580.4,1321.6 L581.4,1321.9 L582.4,1322.2 L583.4,1322.6 L584.4,1322.9 L585.4,1323.3 L586.4,1323.7 L587.4,1324.1 L588.4,1324.4 L589.4,1324.8 L590.4,1325.3 L591.4,1325.7 L592.4,1326.1 L593.4,1326.5 L594.4,1327.0 L595.4,1327.4 L596.4,1327.9 L597.4,1328.4 L598.4,1328.9 L599.4,1329.3 L600.4,1329.8 L601.4,1330.4 L602.4,1330.9 L603.4,1331.4 L604.4,1331.9 L605.4,1332.5 L606.4,1333.0 L607.4,1333.6 L608.4,1334.1 L609.4,1334.7 L610.4,1335.3 L611.4,1335.9 L612.4,1336.5 L613.4,1337.0 L614.4,1337.7 L615.4,1338.3 L616.4,1338.9 L617.4,1339.5 L618.4,1340.1 L619.4,1340.8 L620.4,1341.4 L621.4,1342.1 L622.4,1342.7 L623.4,1343.4 L624.4,1344.1 L625.4,1344.7 L626.4,1345.4 L627.4,1346.1 L628.4,1346.8 L629.4,1347.5 L630.4,1348.2 L631.4,1348.9 L632.4,1349.6 L633.4,1350.3 L634.4,1351.0 L635.4,1351.7 L636.4,1352.5 L637.4,1353.2 L638.4,1353.9 L639.4,1354.7 L640.4,1355.4 L641.4,1356.2 L642.4,1356.9 L643.4,1357.7 L644.4,1358.4 L645.4,1359.2 L646.4,1360.0 L647.4,1360.7 L648.4,1361.5 L649.4,1362.3 L650.4,1363.0 L651.4,1363.8 L652.4,1364.6 L653.4,1365.4 L654.4,1366.2 L655.4,1366.9 L656.4,1367.7 L657.4,1368.5 L658.4,1369.3 L659.4,1370.1 L660.4,1370.9 L661.4,1371.7 L662.4,1372.4 L663.4,1373.2 L664.4,1374.0 L665.4,1374.8 L666.4,1375.6 L667.4,1376.3 L668.4,1377.1 L669.4,1377.9 L670.4,1378.7 L671.4,1379.4 L672.4,1380.2 L673.4,1380.9 L674.4,1381.7 L675.4,1382.4 L676.4,1383.2 L677.4,1383.9 L678.4,1384.7 L679.4,1385.4 L680.4,1386.1 L681.4,1386.8 L682.4,1387.6 L683.4,1388.3 L684.4,1389.0 L685.4,1389.7 L686.4,1390.3 L687.4,1391.0 L688.4,1391.7 L689.4,1392.3 L690.4,1393.0 L691.4,1393.6 L692.4,1394.3 L693.4,1394.9 L694.4,1395.5 L695.4,1396.1 L696.4,1396.7 L697.4,1397.3 L698.4,1397.9 L699.4,1398.5 L700.4,1399.0 L701.4,1399.6 L702.4,1400.1 L703.4,1400.6 L704.4,1401.1 L705.4,1401.6 L706.4,1402.1 L707.4,1402.6 L708.4,1403.1 L709.4,1403.5 L710.4,1404.0 L711.4,1404.4 L712.4,1404.9 L713.4,1405.3 L714.4,1405.7 L715.4,1406.1 L716.4,1406.5 L717.4,1406.9 L718.4,1407.3 L719.4,1407.6 L720.4,1408.0 L721.4,1408.3 L722.4,1408.7 L723.4,1409.0 L724.4,1409.3 L725.4,1409.6 L726.4,1409.9 L727.4,1410.2 L728.4,1410.5 L729.4,1410.8 L730.4,1411.1 L731.4,1411.4 L732.4,1411.6 L733.4,1411.9 L734.4,1412.1 L735.4,1412.3 L736.4,1412.6 L737.4,1412.8 L738.4,1413.0 L739.4,1413.2 L740.4,1413.4 L741.4,1413.6 L742.4,1413.8 L743.4,1414.0 L744.4,1414.1 L745.4,1414.3 L746.4,1414.5 L747.4,1414.6 L748.4,1414.8 L749.4,1414.9 L750.4,1415.0 L751.4,1415.2 L752.4,1415.3 L753.4,1415.4 L754.4,1415.5 L755.4,1415.6 L756.4,1415.7 L757.4,1415.8 L758.4,1415.9 L759.4,1416.0 L760.4,1416.1 L761.4,1416.1 L762.4,1416.2 L763.4,1416.3 L764.4,1416.3 L765.4,1416.4 L766.4,1416.4 L767.4,1416.5 L768.4,1416.5 L769.4,1416.6 L770.4,1416.6 L771.4,1416.6 L772.4,1416.7 L773.4,1416.7 L774.4,1416.7 L775.4,1416.7 L776.4,1416.7 L777.4,1416.7 L778.4,1416.7 L779.4,1416.7 L780.4,1416.7 L781.4,1416.7 L782.4,1416.7 L783.4,1416.7 L784.4,1416.7 L785.4,1416.7 L786.4,1416.7 L787.4,1416.6 L788.4,1416.6 L789.4,1416.6 L790.4,1416.6 L791.4,1416.5 L792.4,1416.5 L793.4,1416.5 L794.4,1416.4 L795.4,1416.4 L796.4,1416.4 L797.4,1416.3 L798.4,1416.3 L799.4,1416.2 L800.4,1416.2 L801.4,1416.2 L802.4,1416.1 L803.4,1416.1 L804.4,1416.0 L805.4,1416.0 L806.4,1415.9 L807.4,1415.9 L808.4,1415.8 L809.4,1415.8 L810.4,1415.7 L811.4,1415.7 L812.4,1415.6 L813.4,1415.6 L814.4,1415.5 L815.4,1415.5 L816.4,1415.4 L817.4,1415.4 L818.4,1415.3 L819.4,1415.3 L820.4,1415.2 L821.4,1415.2 L822.4,1415.2 L823.4,1415.1 L824.4,1415.1 L825.4,1415.0 L826.4,1415.0 L827.4,1415.0 L828.4,1414.9 L829.4,1414.9 L830.4,1414.8 L831.4,1414.8 L832.4,1414.8 L833.4,1414.8 L834.4,1414.7 L835.4,1414.7 L836.4,1414.7 L837.4,1414.7 L838.4,1414.7 L839.4,1414.6 L840.4,1414.6 L841.4,1414.6 L842.4,1414.6 L843.4,1414.6 L844.4,1414.6 L845.4,1414.6 L846.4,1414.6 L847.4,1414.7 L848.4,1414.7 L849.4,1414.7 L850.4,1414.7 L851.4,1414.7 L852.4,1414.8 L853.4,1414.8 L854.4,1414.8 L855.4,1414.9 L856.4,1414.9 L857.4,1415.0 L858.4,1415.0 L859.4,1415.1 L860.4,1415.2 L861.4,1415.2 L862.4,1415.3 L863.4,1415.4 L864.4,1415.5 L865.4,1415.6 L866.4,1415.7 L867.4,1415.8 L868.4,1415.9 L869.4,1416.0 L870.4,1416.1 L871.4,1416.2 L872.4,1416.3 L873.4,1416.5 L874.4,1416.6 L875.4,1416.8 L876.4,1416.9 L877.4,1417.1 L878.4,1417.2 L879.4,1417.4 L880.4,1417.6 L881.4,1417.8 L882.4,1418.0 L883.4,1418.2 L884.4,1418.4 L885.4,1418.6 L886.4,1418.8 L886.9,1418.9" fill="none" stroke="#000" stroke-width="3.4" stroke-linejoin="round" stroke-linecap="round" /><path d="M77.3,1210.7 L80.3,1211.9 L82.0,1207.2 L82.0,1199.0 L83.2,1190.8 L85.5,1186.1 L87.9,1184.9 L88.5,1197.8 L90.2,1202.5 L91.4,1204.3 L93.8,1199.0 L97.3,1197.8 L99.6,1199.0 L102.0,1193.1 L105.5,1192.0 L107.8,1201.3 L110.2,1197.8 L112.5,1193.1 L112.5,1184.9 L114.8,1180.2 L117.8,1180.2 L118.4,1187.3 L121.9,1187.3 L124.2,1181.4 L127.7,1179.7 L133.6,1181.4 L134.8,1176.7 L139.5,1174.4 L145.3,1172.0 L148.8,1169.7 L152.3,1170.9 L154.7,1167.3 L154.7,1156.8 L156.4,1148.6 L158.2,1145.1 L160.5,1142.7 L165.2,1142.7 L165.8,1135.7 L168.8,1131.0 L172.3,1129.8 L174.6,1126.3 L179.3,1127.5 L179.3,1119.3 L182.8,1118.1 L186.3,1124.0 L188.7,1120.5 L192.2,1114.6 L192.2,1108.2 L193.5,1109.1 L195.3,1106.7 L198.2,1118.4 L201.7,1112.6 L204.6,1110.8 L207.6,1117.3 L211.1,1123.1 L213.4,1129.0 L217.5,1126.6 L221.1,1123.7 L223.4,1132.5 L225.2,1137.2 L229.3,1138.4 L230.4,1146.6 L231.0,1157.1 L233.9,1165.3 L235.7,1171.2 L241.6,1175.9 L242.7,1184.1 L243.9,1195.8 L245.7,1202.8 L249.2,1207.5 L252.1,1214.5 L253.3,1223.9 L256.2,1229.8 L258.6,1230.9 L259.1,1241.5 L260.3,1254.4 L262.1,1264.9 L265.0,1270.8 L268.5,1273.1 L270.9,1280.2 L273.8,1274.3 L277.9,1272.0 L283.8,1276.6 L286.7,1281.3 L289.6,1288.4 L294.7,1285.0 L297.8,1297.5 L300.9,1285.0 L305.6,1281.9 L313.4,1285.0 L321.3,1281.9 L325.9,1274.1 L332.2,1281.9 L335.3,1267.8 L341.6,1269.4 L346.3,1264.7 L352.5,1275.6 L358.8,1266.3 L361.9,1258.4 L368.1,1260.0 L374.4,1250.6 L377.5,1263.1 L383.8,1266.3 L390.0,1261.6 L396.3,1267.8 L402.5,1263.1 L408.8,1260.0 L415.0,1264.7 L422.8,1266.3 L430.6,1261.6 L435.3,1266.3 L440.0,1263.1 L444.7,1255.3 L450.9,1250.6 L452.5,1260.0 L457.2,1266.3 L463.4,1256.9 L474.4,1252.2 L485.3,1247.5 L490.0,1250.6 L496.3,1247.5 L499.4,1255.3 L502.5,1239.7 L505.6,1238.1 L508.8,1242.8 L515.0,1244.4 L521.3,1242.8 L527.5,1236.6 L529.8,1231.9 L535.3,1230.3 L540.0,1227.2 L543.1,1233.4 L549.4,1220.9 L554.1,1211.6 L558.8,1205.3 L563.4,1200.6 L568.1,1191.3 L572.8,1180.3 L577.5,1169.4 L580.6,1161.6 L585.2,1138.5 L587.0,1135.0 L588.5,1136.0 L591.0,1126.0 L599.1,1094.1 L601.0,1092.0 L603.0,1090.0 L609.3,1062.3 L611.0,1058.0 L612.5,1057.0 L619.4,1026.8 L622.0,1025.0 L624.0,1024.0 L628.3,1011.6 L630.0,1005.0 L636.0,984.9 L637.5,985.0 L643.6,953.2 L646.0,950.0 L649.9,946.8 L651.0,944.0 L653.7,936.7 L656.3,931.6 L661.3,936.7 L666.4,944.3 L672.0,951.0 L675.3,954.4 L677.8,968.4 L680.4,991.2 L685.4,1024.3 L690.5,1049.6 L694.3,1078.8 L696.9,1097.9 L700.0,1125.8 L703.2,1151.2 L706.4,1173.2 L709.1,1205.0 L712.7,1240.0 L716.6,1269.3 L722.5,1293.7 L727.3,1316.2 L730.3,1332.8 L734.2,1342.5 L739.1,1349.4 L741.0,1360.1 L746.9,1360.1 L754.2,1356.2 L754.7,1360.1 L757.6,1378.7 L763.5,1374.8 L766.4,1386.5 L772.3,1379.6 L778.1,1380.6 L779.1,1386.5 L785.0,1397.2 L785.9,1401.1 L788.9,1386.5 L792.8,1384.5 L797.7,1387.5 L800.0,1388.4 L803.5,1387.9 L806.2,1396.1 L813.1,1403.0 L818.5,1400.2 L822.6,1403.0 L824.7,1422.1 L826.7,1409.8 L831.3,1402.2 L834.5,1398.2 L837.7,1403.8 L842.6,1408.7 L845.8,1410.3 L852.2,1406.3 L855.4,1404.6 L858.7,1411.9 L863.5,1410.3 L868.3,1406.3 L871.6,1408.7 L876.4,1410.3 L879.6,1407.1 L882.0,1413.5 L884.5,1423.2 L887.7,1418.3 L891.7,1415.1 L895.7,1415.1 L899.0,1410.3 L901.4,1403.8 L905.4,1404.6 L910.2,1403.8 L913.5,1409.5 L916.7,1408.7 L919.9,1411.9 L923.1,1416.7 L928.0,1413.5 L932.8,1416.7 L936.0,1406.3 L939.2,1408.7 L942.5,1412.7 L947.3,1412.7 L952.1,1411.9 L955.4,1420.0 L958.6,1420.8 L961.8,1415.1 L966.6,1412.7 L971.5,1416.7 L974.7,1420.0 L977.9,1414.3" fill="none" stroke="#000" stroke-width="3.0" stroke-linejoin="round" stroke-linecap="round" /><path d="M299.4,1278.3 L300.4,1278.1 L301.4,1277.8 L302.4,1277.6 L303.4,1277.4 L304.4,1277.2 L305.4,1277.0 L306.4,1276.8 L307.4,1276.6 L308.4,1276.4 L309.4,1276.1 L310.4,1275.9 L311.4,1275.7 L312.4,1275.5 L313.4,1275.2 L314.4,1275.0 L315.4,1274.8 L316.4,1274.5 L317.4,1274.3 L318.4,1274.1 L319.4,1273.8 L320.4,1273.6 L321.4,1273.3 L322.4,1273.1 L323.4,1272.9 L324.4,1272.6 L325.4,1272.4 L326.4,1272.1 L327.4,1271.9 L328.4,1271.6 L329.4,1271.4 L330.4,1271.2 L331.4,1270.9 L332.4,1270.7 L333.4,1270.4 L334.4,1270.2 L335.4,1269.9 L336.4,1269.7 L337.4,1269.4 L338.4,1269.2 L339.4,1268.9 L340.4,1268.7 L341.4,1268.5 L342.4,1268.2 L343.4,1268.0 L344.4,1267.7 L345.4,1267.5 L346.4,1267.2 L347.4,1267.0 L348.4,1266.8 L349.4,1266.5 L350.4,1266.3 L351.4,1266.1 L352.4,1265.8 L353.4,1265.6 L354.4,1265.4 L355.4,1265.1 L356.4,1264.9 L357.4,1264.7 L358.4,1264.5 L359.4,1264.2 L360.4,1264.0 L361.4,1263.8 L362.4,1263.6 L363.4,1263.4 L364.4,1263.2 L365.4,1263.0 L366.4,1262.7 L367.4,1262.5 L368.4,1262.3 L369.4,1262.1 L370.4,1262.0 L371.4,1261.8 L372.4,1261.6 L373.4,1261.4 L374.4,1261.2 L375.4,1261.0 L376.4,1260.8 L377.4,1260.7 L378.4,1260.5 L379.4,1260.3 L380.4,1260.2 L381.4,1260.0 L382.4,1259.9 L383.4,1259.7 L384.4,1259.6 L385.4,1259.4 L386.4,1259.3 L387.4,1259.1 L388.4,1259.0 L389.4,1258.9 L390.4,1258.8 L391.4,1258.6 L392.4,1258.5 L393.4,1258.4 L394.4,1258.3 L395.4,1258.2 L396.4,1258.1 L397.4,1258.0 L398.4,1257.9 L399.4,1257.9 L400.4,1257.8 L401.4,1257.7 L402.4,1257.6 L403.4,1257.6 L404.4,1257.5 L405.4,1257.5 L406.4,1257.4 L407.4,1257.4 L408.4,1257.4 L409.4,1257.3 L410.4,1257.3 L411.4,1257.3 L412.4,1257.3 L413.4,1257.3 L414.4,1257.3 L415.4,1257.3 L416.4,1257.3 L417.4,1257.3 L418.4,1257.3 L419.4,1257.3 L420.4,1257.4 L421.4,1257.4 L422.4,1257.4 L423.4,1257.4 L424.4,1257.5 L425.4,1257.5 L426.4,1257.5 L427.4,1257.6 L428.4,1257.6 L429.4,1257.7 L430.4,1257.7 L431.4,1257.7 L432.4,1257.8 L433.4,1257.8 L434.4,1257.9 L435.4,1257.9 L436.4,1258.0 L437.4,1258.0 L438.4,1258.1 L439.4,1258.1 L440.4,1258.1 L441.4,1258.2 L442.4,1258.2 L443.4,1258.3 L444.4,1258.3 L445.4,1258.3 L446.4,1258.4 L447.4,1258.4 L448.4,1258.4 L449.4,1258.5 L450.4,1258.5 L451.4,1258.5 L452.4,1258.5 L453.4,1258.5 L454.4,1258.6 L455.4,1258.6 L456.4,1258.6 L457.4,1258.6 L458.4,1258.6 L459.4,1258.5 L460.4,1258.5 L461.4,1258.5 L462.4,1258.5 L463.4,1258.5 L464.4,1258.4 L465.4,1258.4 L466.4,1258.3 L467.4,1258.3 L468.4,1258.2 L469.4,1258.1 L470.4,1258.1 L471.4,1258.0 L472.4,1257.9 L473.4,1257.8 L474.4,1257.7 L475.4,1257.6 L476.4,1257.5 L477.4,1257.3 L478.4,1257.2 L479.4,1257.1 L480.4,1256.9 L481.4,1256.8 L482.4,1256.6 L483.4,1256.4 L484.4,1256.2 L485.4,1256.1 L486.4,1255.9 L487.4,1255.7 L488.4,1255.5 L489.4,1255.3 L490.4,1255.0 L491.4,1254.8 L492.4,1254.6 L493.4,1254.3 L494.4,1254.1 L495.4,1253.8 L496.4,1253.6 L497.4,1253.3 L498.4,1253.0 L499.4,1252.7 L500.4,1252.4 L501.4,1252.1 L502.4,1251.8 L503.4,1251.5 L504.4,1251.2 L505.4,1250.9 L506.4,1250.5 L507.4,1250.2 L508.4,1249.8 L509.4,1249.5 L510.4,1249.1 L511.4,1248.7 L512.4,1248.3 L513.4,1247.9 L514.4,1247.5 L515.4,1247.1 L516.4,1246.7 L517.4,1246.2 L518.4,1245.8 L519.4,1245.3 L520.4,1244.8 L521.4,1244.3 L522.4,1243.8 L523.4,1243.3 L524.4,1242.7 L525.4,1242.2 L526.4,1241.6 L527.4,1241.1 L528.4,1240.5 L529.4,1239.9 L530.4,1239.2 L531.4,1238.6 L532.4,1237.9 L533.4,1237.3 L534.4,1236.6 L535.4,1235.9 L536.4,1235.1 L537.4,1234.4 L538.4,1233.6 L539.4,1232.9 L540.4,1232.1 L541.4,1231.2 L542.4,1230.4 L543.4,1229.5 L544.4,1228.7 L545.4,1227.8 L546.4,1226.8 L547.4,1225.9 L548.4,1224.9 L549.4,1223.9 L550.4,1222.9 L551.4,1221.9 L552.4,1220.8 L553.4,1219.7 L554.4,1218.6 L555.4,1217.4 L556.4,1216.3 L557.4,1215.1 L558.4,1213.8 L559.4,1212.6 L560.4,1211.3 L561.4,1210.0 L562.4,1208.6 L563.4,1207.2 L564.4,1205.8 L565.4,1204.4 L566.4,1202.9 L567.4,1201.3 L568.4,1199.7 L569.4,1198.0 L570.4,1196.3 L571.4,1194.5 L572.4,1192.7 L573.4,1190.8 L574.4,1188.8 L575.4,1186.7 L576.4,1184.6 L577.4,1182.4 L578.4,1180.1 L579.4,1177.7 L580.4,1175.2 L581.4,1172.6 L582.4,1170.0 L583.4,1167.2 L584.4,1164.3 L585.4,1161.4 L586.4,1158.4 L587.4,1155.2 L588.4,1152.0 L589.4,1148.8 L590.4,1145.5 L591.4,1142.1 L592.4,1138.6 L593.4,1135.1 L594.4,1131.5 L595.4,1127.9 L596.4,1124.3 L597.4,1120.6 L598.4,1116.9 L599.4,1113.1 L600.4,1109.4 L601.4,1105.6 L602.4,1101.8 L603.4,1098.0 L604.4,1094.2 L605.4,1090.3 L606.4,1086.5 L607.4,1082.7 L608.4,1078.9 L609.4,1075.2 L610.4,1071.4 L611.4,1067.6 L612.4,1063.9 L613.4,1060.1 L614.4,1056.4 L615.4,1052.7 L616.4,1048.9 L617.4,1045.2 L618.4,1041.4 L619.4,1037.7 L620.4,1033.9 L621.4,1030.1 L622.4,1026.3 L623.4,1022.5 L624.4,1018.7 L625.4,1014.8 L626.4,1011.0 L627.4,1007.0 L628.4,1003.1 L629.4,999.2 L630.4,995.2 L631.4,991.3 L632.4,987.4 L633.4,983.5 L634.4,979.6 L635.4,975.8 L636.4,972.1 L637.4,968.4 L638.4,964.8 L639.4,961.3 L640.4,957.9 L641.4,954.6 L642.4,951.4 L643.4,948.4 L644.4,945.5 L645.4,942.7 L646.4,940.1 L647.4,937.7 L648.4,935.5 L649.4,933.4 L650.4,931.6 L651.4,930.0 L652.4,928.6 L653.4,927.4 L654.4,926.5 L655.4,925.9 L656.4,925.5 L657.4,925.3 L658.4,925.5 L659.4,926.0 L660.4,926.7 L661.4,927.7 L662.4,928.9 L663.4,930.5 L664.4,932.2 L665.4,934.2 L666.4,936.4 L667.4,938.9 L668.4,941.6 L669.4,944.4 L670.4,947.5 L671.4,950.8 L672.4,954.3 L673.4,957.9 L674.4,961.8 L675.4,965.8 L676.4,970.0 L677.4,974.4 L678.4,979.1 L679.4,984.1 L680.4,989.4 L681.4,994.9 L682.4,1000.9 L683.4,1007.1 L684.4,1013.8 L685.4,1020.8 L686.4,1028.0 L687.4,1035.6 L688.4,1043.3 L689.4,1051.3 L690.4,1059.5 L691.4,1067.7 L692.4,1076.1 L693.4,1084.5 L694.4,1093.0 L695.4,1101.5 L696.4,1109.9 L697.4,1118.2 L698.4,1126.5 L699.4,1134.6 L700.4,1142.5 L701.4,1150.3 L702.4,1157.9 L703.4,1165.4 L704.4,1172.6 L705.4,1179.5 L706.4,1186.3 L707.4,1192.8 L708.4,1199.1 L709.4,1205.2 L710.4,1211.1 L711.4,1216.9 L712.4,1222.5 L713.4,1227.9 L714.4,1233.2 L715.4,1238.4 L716.4,1243.4 L717.4,1248.4 L718.4,1253.2 L719.4,1258.0 L720.4,1262.7 L721.4,1267.3 L722.4,1271.9 L723.4,1276.3 L724.4,1280.6 L725.4,1284.8 L726.4,1288.9 L727.4,1292.9 L728.4,1296.6 L729.4,1300.3 L730.4,1303.7 L731.4,1307.1 L732.4,1310.3 L733.4,1313.3 L734.4,1316.3 L735.4,1319.1 L736.4,1321.9 L737.4,1324.6 L738.4,1327.1 L739.4,1329.7 L740.4,1332.1 L741.4,1334.5 L742.4,1336.9 L743.4,1339.2 L744.4,1341.4 L745.4,1343.6 L746.4,1345.7 L747.4,1347.8 L748.4,1349.8 L749.4,1351.7 L750.4,1353.6 L751.4,1355.5 L752.4,1357.3 L753.4,1359.0 L754.4,1360.7 L755.4,1362.3 L756.4,1363.9 L757.4,1365.4 L758.4,1366.9 L759.4,1368.4 L760.4,1369.8 L761.4,1371.1 L762.4,1372.4 L763.4,1373.6 L764.4,1374.9 L765.4,1376.0 L766.4,1377.1 L767.4,1378.2 L768.4,1379.3 L769.4,1380.3 L770.4,1381.3 L771.4,1382.2 L772.4,1383.1 L773.4,1384.0 L774.4,1384.8 L775.4,1385.6 L776.4,1386.3 L777.4,1387.1 L778.4,1387.8 L779.4,1388.5 L780.4,1389.1 L781.4,1389.7 L782.4,1390.3 L783.4,1390.9 L784.4,1391.5 L785.4,1392.0 L786.4,1392.5 L787.4,1393.0 L788.4,1393.5 L789.4,1393.9 L790.4,1394.3 L791.4,1394.8 L792.4,1395.2 L793.4,1395.6 L794.4,1395.9 L795.4,1396.3 L796.4,1396.7 L797.4,1397.0 L798.4,1397.3 L799.4,1397.7 L800.4,1398.0 L801.4,1398.3 L802.4,1398.6 L803.4,1398.9 L804.4,1399.2 L805.4,1399.5 L806.4,1399.8 L807.4,1400.0 L808.4,1400.3 L809.4,1400.6 L810.4,1400.8 L811.4,1401.1 L812.4,1401.3 L813.4,1401.6 L814.4,1401.8 L815.4,1402.1 L816.4,1402.3 L817.4,1402.5 L818.4,1402.7 L819.4,1403.0 L820.4,1403.2 L821.4,1403.4 L822.4,1403.6 L823.4,1403.8 L824.4,1404.0 L825.4,1404.1 L826.4,1404.3 L827.4,1404.5 L828.4,1404.7 L829.4,1404.8 L830.4,1405.0 L831.4,1405.2 L832.4,1405.3 L833.4,1405.5 L834.4,1405.6 L835.4,1405.8 L836.4,1405.9 L837.4,1406.1 L838.4,1406.2 L839.4,1406.3 L840.4,1406.5 L841.4,1406.6 L842.4,1406.7 L843.4,1406.9 L844.4,1407.0 L845.4,1407.1 L846.4,1407.2 L847.4,1407.3 L848.4,1407.4 L849.4,1407.5 L850.4,1407.6 L851.4,1407.7 L852.4,1407.8 L853.4,1407.9 L854.4,1408.0 L855.4,1408.1 L856.4,1408.2 L857.4,1408.3 L858.4,1408.4 L859.4,1408.5 L860.4,1408.6 L861.4,1408.6 L862.4,1408.7 L863.4,1408.8 L864.4,1408.9 L865.4,1409.0 L866.4,1409.0 L867.4,1409.1 L868.4,1409.2 L869.4,1409.3 L870.4,1409.3 L871.4,1409.4 L872.4,1409.5 L873.4,1409.5 L874.4,1409.6 L875.4,1409.7 L876.4,1409.7 L877.4,1409.8 L878.4,1409.9 L879.4,1410.0 L880.4,1410.0 L881.4,1410.1 L882.4,1410.2 L883.4,1410.2 L884.4,1410.3 L885.4,1410.4 L886.4,1410.4 L886.9,1410.5" fill="none" stroke="#ff0000" stroke-width="3.6" stroke-linejoin="round" stroke-linecap="round" /><path d="M299.4,1281.7 L300.4,1281.6 L301.4,1281.4 L302.4,1281.2 L303.4,1281.0 L304.4,1280.9 L305.4,1280.7 L306.4,1280.5 L307.4,1280.3 L308.4,1280.1 L309.4,1279.9 L310.4,1279.7 L311.4,1279.5 L312.4,1279.3 L313.4,1279.1 L314.4,1278.9 L315.4,1278.7 L316.4,1278.5 L317.4,1278.3 L318.4,1278.1 L319.4,1277.9 L320.4,1277.7 L321.4,1277.5 L322.4,1277.2 L323.4,1277.0 L324.4,1276.8 L325.4,1276.6 L326.4,1276.4 L327.4,1276.2 L328.4,1275.9 L329.4,1275.7 L330.4,1275.5 L331.4,1275.3 L332.4,1275.1 L333.4,1274.8 L334.4,1274.6 L335.4,1274.4 L336.4,1274.2 L337.4,1274.0 L338.4,1273.7 L339.4,1273.5 L340.4,1273.3 L341.4,1273.1 L342.4,1272.9 L343.4,1272.7 L344.4,1272.5 L345.4,1272.3 L346.4,1272.0 L347.4,1271.8 L348.4,1271.6 L349.4,1271.4 L350.4,1271.2 L351.4,1271.0 L352.4,1270.8 L353.4,1270.6 L354.4,1270.5 L355.4,1270.3 L356.4,1270.1 L357.4,1269.9 L358.4,1269.7 L359.4,1269.5 L360.4,1269.4 L361.4,1269.2 L362.4,1269.0 L363.4,1268.9 L364.4,1268.7 L365.4,1268.5 L366.4,1268.4 L367.4,1268.2 L368.4,1268.1 L369.4,1268.0 L370.4,1267.8 L371.4,1267.7 L372.4,1267.6 L373.4,1267.4 L374.4,1267.3 L375.4,1267.2 L376.4,1267.1 L377.4,1267.0 L378.4,1266.9 L379.4,1266.8 L380.4,1266.7 L381.4,1266.6 L382.4,1266.6 L383.4,1266.5 L384.4,1266.4 L385.4,1266.4 L386.4,1266.3 L387.4,1266.3 L388.4,1266.2 L389.4,1266.2 L390.4,1266.2 L391.4,1266.2 L392.4,1266.1 L393.4,1266.1 L394.4,1266.1 L395.4,1266.1 L396.4,1266.2 L397.4,1266.2 L398.4,1266.2 L399.4,1266.3 L400.4,1266.3 L401.4,1266.4 L402.4,1266.4 L403.4,1266.5 L404.4,1266.6 L405.4,1266.6 L406.4,1266.7 L407.4,1266.8 L408.4,1266.9 L409.4,1267.1 L410.4,1267.2 L411.4,1267.3 L412.4,1267.5 L413.4,1267.6 L414.4,1267.8 L415.4,1267.9 L416.4,1268.1 L417.4,1268.3 L418.4,1268.5 L419.4,1268.7 L420.4,1268.9 L421.4,1269.1 L422.4,1269.3 L423.4,1269.5 L424.4,1269.7 L425.4,1270.0 L426.4,1270.2 L427.4,1270.4 L428.4,1270.7 L429.4,1270.9 L430.4,1271.2 L431.4,1271.4 L432.4,1271.7 L433.4,1272.0 L434.4,1272.3 L435.4,1272.5 L436.4,1272.8 L437.4,1273.1 L438.4,1273.4 L439.4,1273.7 L440.4,1274.0 L441.4,1274.3 L442.4,1274.6 L443.4,1274.9 L444.4,1275.2 L445.4,1275.5 L446.4,1275.8 L447.4,1276.1 L448.4,1276.4 L449.4,1276.7 L450.4,1277.0 L451.4,1277.3 L452.4,1277.7 L453.4,1278.0 L454.4,1278.3 L455.4,1278.6 L456.4,1278.9 L457.4,1279.3 L458.4,1279.6 L459.4,1279.9 L460.4,1280.2 L461.4,1280.5 L462.4,1280.9 L463.4,1281.2 L464.4,1281.5 L465.4,1281.8 L466.4,1282.1 L467.4,1282.4 L468.4,1282.8 L469.4,1283.1 L470.4,1283.4 L471.4,1283.7 L472.4,1284.0 L473.4,1284.3 L474.4,1284.6 L475.4,1284.9 L476.4,1285.2 L477.4,1285.5 L478.4,1285.8 L479.4,1286.1 L480.4,1286.3 L481.4,1286.6 L482.4,1286.9 L483.4,1287.2 L484.4,1287.5 L485.4,1287.8 L486.4,1288.0 L487.4,1288.3 L488.4,1288.6 L489.4,1288.9 L490.4,1289.1 L491.4,1289.4 L492.4,1289.7 L493.4,1290.0 L494.4,1290.2 L495.4,1290.5 L496.4,1290.8 L497.4,1291.0 L498.4,1291.3 L499.4,1291.6 L500.4,1291.8 L501.4,1292.1 L502.4,1292.4 L503.4,1292.6 L504.4,1292.9 L505.4,1293.1 L506.4,1293.4 L507.4,1293.7 L508.4,1293.9 L509.4,1294.2 L510.4,1294.5 L511.4,1294.7 L512.4,1295.0 L513.4,1295.3 L514.4,1295.5 L515.4,1295.8 L516.4,1296.1 L517.4,1296.3 L518.4,1296.6 L519.4,1296.9 L520.4,1297.1 L521.4,1297.4 L522.4,1297.7 L523.4,1297.9 L524.4,1298.2 L525.4,1298.5 L526.4,1298.8 L527.4,1299.0 L528.4,1299.3 L529.4,1299.6 L530.4,1299.9 L531.4,1300.1 L532.4,1300.4 L533.4,1300.7 L534.4,1301.0 L535.4,1301.3 L536.4,1301.6 L537.4,1301.9 L538.4,1302.2 L539.4,1302.4 L540.4,1302.7 L541.4,1303.0 L542.4,1303.3 L543.4,1303.6 L544.4,1303.9 L545.4,1304.3 L546.4,1304.6 L547.4,1304.9 L548.4,1305.2 L549.4,1305.5 L550.4,1305.8 L551.4,1306.1 L552.4,1306.5 L553.4,1306.8 L554.4,1307.1 L555.4,1307.5 L556.4,1307.8 L557.4,1308.1 L558.4,1308.5 L559.4,1308.8 L560.4,1309.2 L561.4,1309.5 L562.4,1309.9 L563.4,1310.2 L564.4,1310.6 L565.4,1311.0 L566.4,1311.3 L567.4,1311.7 L568.4,1312.1 L569.4,1312.5 L570.4,1312.9 L571.4,1313.2 L572.4,1313.6 L573.4,1314.0 L574.4,1314.4 L575.4,1314.8 L576.4,1315.2 L577.4,1315.7 L578.4,1316.1 L579.4,1316.5 L580.4,1316.9 L581.4,1317.4 L582.4,1317.8 L583.4,1318.2 L584.4,1318.7 L585.4,1319.1 L586.4,1319.6 L587.4,1320.0 L588.4,1320.5 L589.4,1321.0 L590.4,1321.5 L591.4,1321.9 L592.4,1322.4 L593.4,1322.9 L594.4,1323.4 L595.4,1323.9 L596.4,1324.4 L597.4,1324.9 L598.4,1325.4 L599.4,1326.0 L600.4,1326.5 L601.4,1327.0 L602.4,1327.6 L603.4,1328.1 L604.4,1328.7 L605.4,1329.2 L606.4,1329.8 L607.4,1330.4 L608.4,1330.9 L609.4,1331.5 L610.4,1332.1 L611.4,1332.7 L612.4,1333.3 L613.4,1333.9 L614.4,1334.5 L615.4,1335.2 L616.4,1335.8 L617.4,1336.4 L618.4,1337.1 L619.4,1337.7 L620.4,1338.4 L621.4,1339.0 L622.4,1339.7 L623.4,1340.4 L624.4,1341.1 L625.4,1341.8 L626.4,1342.4 L627.4,1343.1 L628.4,1343.9 L629.4,1344.6 L630.4,1345.3 L631.4,1346.0 L632.4,1346.7 L633.4,1347.5 L634.4,1348.2 L635.4,1348.9 L636.4,1349.7 L637.4,1350.4 L638.4,1351.2 L639.4,1351.9 L640.4,1352.7 L641.4,1353.5 L642.4,1354.2 L643.4,1355.0 L644.4,1355.8 L645.4,1356.5 L646.4,1357.3 L647.4,1358.1 L648.4,1358.9 L649.4,1359.7 L650.4,1360.5 L651.4,1361.2 L652.4,1362.0 L653.4,1362.8 L654.4,1363.6 L655.4,1364.4 L656.4,1365.2 L657.4,1366.0 L658.4,1366.8 L659.4,1367.6 L660.4,1368.4 L661.4,1369.2 L662.4,1370.0 L663.4,1370.8 L664.4,1371.6 L665.4,1372.4 L666.4,1373.2 L667.4,1374.0 L668.4,1374.8 L669.4,1375.6 L670.4,1376.4 L671.4,1377.2 L672.4,1378.0 L673.4,1378.8 L674.4,1379.5 L675.4,1380.3 L676.4,1381.1 L677.4,1381.9 L678.4,1382.7 L679.4,1383.5 L680.4,1384.2 L681.4,1385.0 L682.4,1385.8 L683.4,1386.5 L684.4,1387.3 L685.4,1388.0 L686.4,1388.8 L687.4,1389.5 L688.4,1390.2 L689.4,1390.9 L690.4,1391.6 L691.4,1392.3 L692.4,1393.0 L693.4,1393.7 L694.4,1394.4 L695.4,1395.1 L696.4,1395.7 L697.4,1396.3 L698.4,1397.0 L699.4,1397.6 L700.4,1398.2 L701.4,1398.8 L702.4,1399.4 L703.4,1399.9 L704.4,1400.5 L705.4,1401.0 L706.4,1401.5 L707.4,1402.0 L708.4,1402.5 L709.4,1403.0 L710.4,1403.5 L711.4,1403.9 L712.4,1404.3 L713.4,1404.8 L714.4,1405.2 L715.4,1405.5 L716.4,1405.9 L717.4,1406.3 L718.4,1406.6 L719.4,1407.0 L720.4,1407.3 L721.4,1407.6 L722.4,1407.9 L723.4,1408.2 L724.4,1408.5 L725.4,1408.8 L726.4,1409.0 L727.4,1409.3 L728.4,1409.5 L729.4,1409.8 L730.4,1410.0 L731.4,1410.2 L732.4,1410.4 L733.4,1410.6 L734.4,1410.8 L735.4,1411.0 L736.4,1411.2 L737.4,1411.4 L738.4,1411.6 L739.4,1411.7 L740.4,1411.9 L741.4,1412.1 L742.4,1412.2 L743.4,1412.4 L744.4,1412.5 L745.4,1412.6 L746.4,1412.8 L747.4,1412.9 L748.4,1413.0 L749.4,1413.2 L750.4,1413.3 L751.4,1413.4 L752.4,1413.5 L753.4,1413.6 L754.4,1413.7 L755.4,1413.8 L756.4,1413.9 L757.4,1414.0 L758.4,1414.1 L759.4,1414.2 L760.4,1414.3 L761.4,1414.3 L762.4,1414.4 L763.4,1414.5 L764.4,1414.5 L765.4,1414.6 L766.4,1414.7 L767.4,1414.7 L768.4,1414.8 L769.4,1414.8 L770.4,1414.9 L771.4,1414.9 L772.4,1415.0 L773.4,1415.0 L774.4,1415.1 L775.4,1415.1 L776.4,1415.1 L777.4,1415.2 L778.4,1415.2 L779.4,1415.2 L780.4,1415.2 L781.4,1415.2 L782.4,1415.3 L783.4,1415.3 L784.4,1415.3 L785.4,1415.3 L786.4,1415.3 L787.4,1415.3 L788.4,1415.3 L789.4,1415.3 L790.4,1415.4 L791.4,1415.4 L792.4,1415.4 L793.4,1415.4 L794.4,1415.4 L795.4,1415.4 L796.4,1415.4 L797.4,1415.3 L798.4,1415.3 L799.4,1415.3 L800.4,1415.3 L801.4,1415.3 L802.4,1415.3 L803.4,1415.3 L804.4,1415.3 L805.4,1415.3 L806.4,1415.3 L807.4,1415.2 L808.4,1415.2 L809.4,1415.2 L810.4,1415.2 L811.4,1415.2 L812.4,1415.2 L813.4,1415.2 L814.4,1415.1 L815.4,1415.1 L816.4,1415.1 L817.4,1415.1 L818.4,1415.1 L819.4,1415.1 L820.4,1415.1 L821.4,1415.0 L822.4,1415.0 L823.4,1415.0 L824.4,1415.0 L825.4,1415.0 L826.4,1415.0 L827.4,1415.0 L828.4,1415.0 L829.4,1415.0 L830.4,1414.9 L831.4,1414.9 L832.4,1414.9 L833.4,1414.9 L834.4,1414.9 L835.4,1414.9 L836.4,1414.9 L837.4,1414.9 L838.4,1414.9 L839.4,1414.9 L840.4,1414.9 L841.4,1414.9 L842.4,1414.9 L843.4,1415.0 L844.4,1415.0 L845.4,1415.0 L846.4,1415.0 L847.4,1415.0 L848.4,1415.0 L849.4,1415.1 L850.4,1415.1 L851.4,1415.1 L852.4,1415.1 L853.4,1415.2 L854.4,1415.2 L855.4,1415.2 L856.4,1415.3 L857.4,1415.3 L858.4,1415.4 L859.4,1415.4 L860.4,1415.5 L861.4,1415.5 L862.4,1415.6 L863.4,1415.6 L864.4,1415.7 L865.4,1415.8 L866.4,1415.8 L867.4,1415.9 L868.4,1416.0 L869.4,1416.1 L870.4,1416.1 L871.4,1416.2 L872.4,1416.3 L873.4,1416.4 L874.4,1416.5 L875.4,1416.6 L876.4,1416.7 L877.4,1416.8 L878.4,1416.9 L879.4,1417.0 L880.4,1417.2 L881.4,1417.3 L882.4,1417.4 L883.4,1417.5 L884.4,1417.7 L885.4,1417.8 L886.4,1418.0 L886.9,1418.0" fill="none" stroke="#0000ff" stroke-width="3.6" stroke-linejoin="round" stroke-linecap="round" /><path d="M299.4,1292.6 L300.4,1292.5 L301.4,1292.5 L302.4,1292.5 L303.4,1292.4 L304.4,1292.4 L305.4,1292.4 L306.4,1292.4 L307.4,1292.3 L308.4,1292.3 L309.4,1292.3 L310.4,1292.3 L311.4,1292.3 L312.4,1292.2 L313.4,1292.2 L314.4,1292.2 L315.4,1292.2 L316.4,1292.2 L317.4,1292.2 L318.4,1292.2 L319.4,1292.2 L320.4,1292.2 L321.4,1292.2 L322.4,1292.2 L323.4,1292.2 L324.4,1292.2 L325.4,1292.2 L326.4,1292.2 L327.4,1292.2 L328.4,1292.2 L329.4,1292.2 L330.4,1292.2 L331.4,1292.2 L332.4,1292.2 L333.4,1292.2 L334.4,1292.3 L335.4,1292.3 L336.4,1292.3 L337.4,1292.3 L338.4,1292.3 L339.4,1292.3 L340.4,1292.3 L341.4,1292.3 L342.4,1292.4 L343.4,1292.4 L344.4,1292.4 L345.4,1292.4 L346.4,1292.4 L347.4,1292.4 L348.4,1292.5 L349.4,1292.5 L350.4,1292.5 L351.4,1292.5 L352.4,1292.5 L353.4,1292.5 L354.4,1292.6 L355.4,1292.6 L356.4,1292.6 L357.4,1292.6 L358.4,1292.6 L359.4,1292.6 L360.4,1292.6 L361.4,1292.7 L362.4,1292.7 L363.4,1292.7 L364.4,1292.7 L365.4,1292.7 L366.4,1292.7 L367.4,1292.7 L368.4,1292.7 L369.4,1292.7 L370.4,1292.7 L371.4,1292.8 L372.4,1292.8 L373.4,1292.8 L374.4,1292.8 L375.4,1292.8 L376.4,1292.8 L377.4,1292.8 L378.4,1292.8 L379.4,1292.8 L380.4,1292.8 L381.4,1292.8 L382.4,1292.8 L383.4,1292.7 L384.4,1292.7 L385.4,1292.7 L386.4,1292.7 L387.4,1292.7 L388.4,1292.7 L389.4,1292.7 L390.4,1292.7 L391.4,1292.6 L392.4,1292.6 L393.4,1292.6 L394.4,1292.6 L395.4,1292.5 L396.4,1292.5 L397.4,1292.5 L398.4,1292.4 L399.4,1292.4 L400.4,1292.4 L401.4,1292.3 L402.4,1292.3 L403.4,1292.2 L404.4,1292.2 L405.4,1292.1 L406.4,1292.1 L407.4,1292.0 L408.4,1292.0 L409.4,1291.9 L410.4,1291.9 L411.4,1291.8 L412.4,1291.7 L413.4,1291.7 L414.4,1291.6 L415.4,1291.5 L416.4,1291.4 L417.4,1291.4 L418.4,1291.3 L419.4,1291.2 L420.4,1291.1 L421.4,1291.0 L422.4,1290.9 L423.4,1290.8 L424.4,1290.7 L425.4,1290.6 L426.4,1290.5 L427.4,1290.4 L428.4,1290.3 L429.4,1290.2 L430.4,1290.0 L431.4,1289.9 L432.4,1289.8 L433.4,1289.7 L434.4,1289.5 L435.4,1289.4 L436.4,1289.3 L437.4,1289.1 L438.4,1289.0 L439.4,1288.8 L440.4,1288.6 L441.4,1288.5 L442.4,1288.3 L443.4,1288.2 L444.4,1288.0 L445.4,1287.8 L446.4,1287.6 L447.4,1287.4 L448.4,1287.3 L449.4,1287.1 L450.4,1286.9 L451.4,1286.7 L452.4,1286.5 L453.4,1286.2 L454.4,1286.0 L455.4,1285.8 L456.4,1285.6 L457.4,1285.4 L458.4,1285.1 L459.4,1284.9 L460.4,1284.6 L461.4,1284.4 L462.4,1284.2 L463.4,1283.9 L464.4,1283.6 L465.4,1283.4 L466.4,1283.1 L467.4,1282.8 L468.4,1282.5 L469.4,1282.3 L470.4,1282.0 L471.4,1281.7 L472.4,1281.4 L473.4,1281.1 L474.4,1280.8 L475.4,1280.4 L476.4,1280.1 L477.4,1279.8 L478.4,1279.5 L479.4,1279.1 L480.4,1278.8 L481.4,1278.4 L482.4,1278.1 L483.4,1277.7 L484.4,1277.3 L485.4,1277.0 L486.4,1276.6 L487.4,1276.2 L488.4,1275.8 L489.4,1275.4 L490.4,1275.0 L491.4,1274.6 L492.4,1274.2 L493.4,1273.8 L494.4,1273.4 L495.4,1272.9 L496.4,1272.5 L497.4,1272.1 L498.4,1271.6 L499.4,1271.2 L500.4,1270.7 L501.4,1270.2 L502.4,1269.7 L503.4,1269.3 L504.4,1268.8 L505.4,1268.3 L506.4,1267.8 L507.4,1267.3 L508.4,1266.7 L509.4,1266.2 L510.4,1265.7 L511.4,1265.1 L512.4,1264.6 L513.4,1264.0 L514.4,1263.4 L515.4,1262.9 L516.4,1262.3 L517.4,1261.6 L518.4,1261.0 L519.4,1260.4 L520.4,1259.7 L521.4,1259.1 L522.4,1258.4 L523.4,1257.7 L524.4,1257.0 L525.4,1256.3 L526.4,1255.6 L527.4,1254.8 L528.4,1254.1 L529.4,1253.3 L530.4,1252.5 L531.4,1251.7 L532.4,1250.9 L533.4,1250.0 L534.4,1249.2 L535.4,1248.3 L536.4,1247.4 L537.4,1246.5 L538.4,1245.5 L539.4,1244.6 L540.4,1243.6 L541.4,1242.6 L542.4,1241.6 L543.4,1240.6 L544.4,1239.5 L545.4,1238.4 L546.4,1237.3 L547.4,1236.2 L548.4,1235.1 L549.4,1233.9 L550.4,1232.7 L551.4,1231.5 L552.4,1230.3 L553.4,1229.0 L554.4,1227.7 L555.4,1226.4 L556.4,1225.1 L557.4,1223.7 L558.4,1222.3 L559.4,1220.9 L560.4,1219.4 L561.4,1218.0 L562.4,1216.5 L563.4,1214.9 L564.4,1213.4 L565.4,1211.7 L566.4,1210.1 L567.4,1208.4 L568.4,1206.6 L569.4,1204.8 L570.4,1203.0 L571.4,1201.0 L572.4,1199.1 L573.4,1197.0 L574.4,1194.9 L575.4,1192.7 L576.4,1190.5 L577.4,1188.1 L578.4,1185.7 L579.4,1183.2 L580.4,1180.6 L581.4,1178.0 L582.4,1175.2 L583.4,1172.3 L584.4,1169.4 L585.4,1166.4 L586.4,1163.2 L587.4,1160.1 L588.4,1156.8 L589.4,1153.5 L590.4,1150.1 L591.4,1146.6 L592.4,1143.1 L593.4,1139.5 L594.4,1135.9 L595.4,1132.3 L596.4,1128.6 L597.4,1124.9 L598.4,1121.1 L599.4,1117.3 L600.4,1113.5 L601.4,1109.7 L602.4,1105.9 L603.4,1102.1 L604.4,1098.2 L605.4,1094.4 L606.4,1090.6 L607.4,1086.7 L608.4,1082.9 L609.4,1079.1 L610.4,1075.3 L611.4,1071.6 L612.4,1067.8 L613.4,1064.1 L614.4,1060.3 L615.4,1056.6 L616.4,1052.8 L617.4,1049.1 L618.4,1045.3 L619.4,1041.5 L620.4,1037.7 L621.4,1034.0 L622.4,1030.1 L623.4,1026.3 L624.4,1022.5 L625.4,1018.6 L626.4,1014.7 L627.4,1010.8 L628.4,1006.9 L629.4,1002.9 L630.4,998.9 L631.4,995.0 L632.4,991.0 L633.4,987.1 L634.4,983.3 L635.4,979.4 L636.4,975.7 L637.4,972.0 L638.4,968.4 L639.4,964.9 L640.4,961.4 L641.4,958.1 L642.4,954.9 L643.4,951.9 L644.4,948.9 L645.4,946.2 L646.4,943.6 L647.4,941.1 L648.4,938.9 L649.4,936.9 L650.4,935.0 L651.4,933.4 L652.4,932.0 L653.4,930.8 L654.4,929.9 L655.4,929.2 L656.4,928.8 L657.4,928.7 L658.4,928.8 L659.4,929.3 L660.4,930.0 L661.4,930.9 L662.4,932.2 L663.4,933.7 L664.4,935.4 L665.4,937.4 L666.4,939.6 L667.4,942.0 L668.4,944.7 L669.4,947.5 L670.4,950.6 L671.4,953.9 L672.4,957.3 L673.4,960.9 L674.4,964.7 L675.4,968.7 L676.4,972.9 L677.4,977.3 L678.4,981.9 L679.4,986.8 L680.4,992.1 L681.4,997.6 L682.4,1003.5 L683.4,1009.7 L684.4,1016.3 L685.4,1023.2 L686.4,1030.4 L687.4,1037.9 L688.4,1045.6 L689.4,1053.5 L690.4,1061.6 L691.4,1069.8 L692.4,1078.1 L693.4,1086.5 L694.4,1094.9 L695.4,1103.3 L696.4,1111.7 L697.4,1120.0 L698.4,1128.2 L699.4,1136.3 L700.4,1144.2 L701.4,1151.9 L702.4,1159.5 L703.4,1166.8 L704.4,1174.0 L705.4,1180.9 L706.4,1187.7 L707.4,1194.2 L708.4,1200.5 L709.4,1206.6 L710.4,1212.5 L711.4,1218.2 L712.4,1223.8 L713.4,1229.3 L714.4,1234.6 L715.4,1239.7 L716.4,1244.8 L717.4,1249.8 L718.4,1254.7 L719.4,1259.5 L720.4,1264.2 L721.4,1268.9 L722.4,1273.4 L723.4,1277.9 L724.4,1282.3 L725.4,1286.5 L726.4,1290.6 L727.4,1294.6 L728.4,1298.4 L729.4,1302.1 L730.4,1305.6 L731.4,1309.0 L732.4,1312.2 L733.4,1315.3 L734.4,1318.3 L735.4,1321.2 L736.4,1324.0 L737.4,1326.7 L738.4,1329.4 L739.4,1331.9 L740.4,1334.4 L741.4,1336.9 L742.4,1339.3 L743.4,1341.6 L744.4,1343.8 L745.4,1346.0 L746.4,1348.2 L747.4,1350.3 L748.4,1352.3 L749.4,1354.3 L750.4,1356.2 L751.4,1358.0 L752.4,1359.8 L753.4,1361.6 L754.4,1363.3 L755.4,1364.9 L756.4,1366.5 L757.4,1368.0 L758.4,1369.5 L759.4,1371.0 L760.4,1372.4 L761.4,1373.7 L762.4,1375.0 L763.4,1376.2 L764.4,1377.4 L765.4,1378.6 L766.4,1379.7 L767.4,1380.8 L768.4,1381.8 L769.4,1382.8 L770.4,1383.8 L771.4,1384.7 L772.4,1385.6 L773.4,1386.4 L774.4,1387.2 L775.4,1388.0 L776.4,1388.7 L777.4,1389.5 L778.4,1390.1 L779.4,1390.8 L780.4,1391.4 L781.4,1392.0 L782.4,1392.6 L783.4,1393.1 L784.4,1393.7 L785.4,1394.2 L786.4,1394.6 L787.4,1395.1 L788.4,1395.5 L789.4,1396.0 L790.4,1396.4 L791.4,1396.8 L792.4,1397.1 L793.4,1397.5 L794.4,1397.8 L795.4,1398.2 L796.4,1398.5 L797.4,1398.8 L798.4,1399.1 L799.4,1399.4 L800.4,1399.7 L801.4,1399.9 L802.4,1400.2 L803.4,1400.5 L804.4,1400.7 L805.4,1401.0 L806.4,1401.2 L807.4,1401.5 L808.4,1401.7 L809.4,1401.9 L810.4,1402.2 L811.4,1402.4 L812.4,1402.6 L813.4,1402.8 L814.4,1403.0 L815.4,1403.2 L816.4,1403.4 L817.4,1403.6 L818.4,1403.8 L819.4,1404.0 L820.4,1404.2 L821.4,1404.3 L822.4,1404.5 L823.4,1404.7 L824.4,1404.8 L825.4,1405.0 L826.4,1405.1 L827.4,1405.3 L828.4,1405.4 L829.4,1405.6 L830.4,1405.7 L831.4,1405.9 L832.4,1406.0 L833.4,1406.1 L834.4,1406.3 L835.4,1406.4 L836.4,1406.5 L837.4,1406.6 L838.4,1406.8 L839.4,1406.9 L840.4,1407.0 L841.4,1407.1 L842.4,1407.2 L843.4,1407.3 L844.4,1407.4 L845.4,1407.5 L846.4,1407.6 L847.4,1407.8 L848.4,1407.9 L849.4,1408.0 L850.4,1408.1 L851.4,1408.2 L852.4,1408.3 L853.4,1408.4 L854.4,1408.5 L855.4,1408.6 L856.4,1408.7 L857.4,1408.8 L858.4,1408.9 L859.4,1409.0 L860.4,1409.1 L861.4,1409.2 L862.4,1409.2 L863.4,1409.4 L864.4,1409.5 L865.4,1409.6 L866.4,1409.7 L867.4,1409.8 L868.4,1409.9 L869.4,1410.0 L870.4,1410.1 L871.4,1410.2 L872.4,1410.3 L873.4,1410.4 L874.4,1410.5 L875.4,1410.6 L876.4,1410.8 L877.4,1410.9 L878.4,1411.0 L879.4,1411.1 L880.4,1411.2 L881.4,1411.4 L882.4,1411.5 L883.4,1411.6 L884.4,1411.8 L885.4,1411.9 L886.4,1412.1 L886.9,1412.1" fill="none" stroke="#0000ff" stroke-width="3.6" stroke-linejoin="round" stroke-linecap="round" /><path d="M322.1,2017.9 L324.1,2017.9 L326.1,2017.9 L328.1,2018.0 L330.1,2018.0 L332.1,2018.1 L334.1,2018.1 L336.1,2018.1 L338.1,2018.2 L340.1,2018.2 L342.1,2018.3 L344.1,2018.3 L346.1,2018.4 L348.1,2018.4 L350.1,2018.5 L352.1,2018.5 L354.1,2018.6 L356.1,2018.6 L358.1,2018.7 L360.1,2018.8 L362.1,2018.8 L364.1,2018.9 L366.1,2019.0 L368.1,2019.1 L370.1,2019.1 L372.1,2019.2 L374.1,2019.3 L376.1,2019.4 L378.1,2019.5 L380.1,2019.6 L382.1,2019.7 L384.1,2019.8 L386.1,2019.9 L388.1,2020.0 L390.1,2020.1 L392.1,2020.3 L394.1,2020.4 L396.1,2020.5 L398.1,2020.7 L400.1,2020.8 L402.1,2020.9 L404.1,2021.1 L406.1,2021.3 L408.1,2021.4 L410.1,2021.6 L412.1,2021.8 L414.1,2022.0 L416.1,2022.2 L418.1,2022.4 L420.1,2022.6 L422.1,2022.8 L424.1,2023.0 L426.1,2023.2 L428.1,2023.4 L430.1,2023.7 L432.1,2023.9 L434.1,2024.2 L436.1,2024.4 L438.1,2024.7 L440.1,2025.0 L442.1,2025.3 L444.1,2025.6 L446.1,2025.9 L448.1,2026.2 L450.1,2026.5 L452.1,2026.8 L454.1,2027.2 L456.1,2027.5 L458.1,2027.9 L460.1,2028.2 L462.1,2028.6 L464.1,2029.0 L466.1,2029.4 L468.1,2029.8 L470.1,2030.2 L472.1,2030.6 L474.1,2031.0 L476.1,2031.4 L478.1,2031.9 L480.1,2032.3 L482.1,2032.7 L484.1,2033.2 L486.1,2033.7 L488.1,2034.1 L490.1,2034.6 L492.1,2035.1 L494.1,2035.5 L496.1,2036.0 L498.1,2036.5 L500.1,2037.0 L502.1,2037.5 L504.1,2038.0 L506.1,2038.5 L508.1,2039.0 L510.1,2039.4 L512.1,2039.9 L514.1,2040.4 L516.1,2040.9 L518.1,2041.4 L520.1,2041.9 L522.1,2042.4 L524.1,2042.9 L526.1,2043.4 L528.1,2043.9 L530.1,2044.4 L532.1,2044.9 L534.1,2045.4 L536.1,2045.9 L538.1,2046.4 L540.1,2046.9 L542.1,2047.3 L544.1,2047.8 L546.1,2048.3 L548.1,2048.8 L550.1,2049.2 L552.1,2049.7 L554.1,2050.2 L556.1,2050.7 L558.1,2051.1 L560.1,2051.6 L562.1,2052.1 L564.1,2052.5 L566.1,2053.0 L568.1,2053.5 L570.1,2054.0 L572.1,2054.4 L574.1,2054.9 L576.1,2055.4 L578.1,2055.9 L580.1,2056.4 L582.1,2056.9 L584.1,2057.4 L586.1,2057.9 L588.1,2058.4 L590.1,2059.0 L592.1,2059.5 L594.1,2060.0 L596.1,2060.6 L598.1,2061.1 L600.1,2061.7 L602.1,2062.2 L604.1,2062.8 L606.1,2063.4 L608.1,2064.0 L610.1,2064.6 L612.1,2065.2 L614.1,2065.8 L616.1,2066.4 L618.1,2067.1 L620.1,2067.7 L622.1,2068.4 L624.1,2069.0 L626.1,2069.7 L628.1,2070.4 L630.1,2071.1 L632.1,2071.9 L634.1,2072.6 L636.1,2073.3 L638.1,2074.1 L640.1,2074.9 L642.1,2075.7 L644.1,2076.5 L646.1,2077.3 L648.1,2078.1 L650.1,2079.0 L652.1,2079.8 L654.1,2080.7 L656.1,2081.6 L658.1,2082.5 L660.1,2083.4 L662.1,2084.3 L664.1,2085.2 L666.1,2086.1 L668.1,2087.0 L670.1,2087.9 L672.1,2088.9 L674.1,2089.8 L676.1,2090.8 L678.1,2091.7 L680.1,2092.6 L682.1,2093.6 L684.1,2094.5 L686.1,2095.5 L688.1,2096.4 L690.1,2097.4 L692.1,2098.3 L694.1,2099.3 L696.1,2100.2 L698.1,2101.1 L700.1,2102.1 L702.1,2103.0 L704.1,2103.9 L706.1,2104.8 L708.1,2105.8 L710.1,2106.7 L712.1,2107.6 L714.1,2108.4 L716.1,2109.3 L718.1,2110.2 L720.1,2111.0 L722.1,2111.9 L724.1,2112.7 L726.1,2113.5 L728.1,2114.4 L730.1,2115.2 L732.1,2115.9 L734.1,2116.7 L736.1,2117.4 L738.1,2118.2 L740.1,2118.9 L742.1,2119.6 L744.1,2120.3 L746.1,2121.0 L748.1,2121.6 L750.1,2122.2 L752.1,2122.9 L754.1,2123.5 L756.1,2124.1 L758.1,2124.7 L760.1,2125.2 L762.1,2125.8 L764.1,2126.3 L766.1,2126.8 L768.1,2127.3 L770.1,2127.8 L772.1,2128.3 L774.1,2128.8 L776.1,2129.2 L778.1,2129.7 L780.1,2130.1 L782.1,2130.5 L784.1,2130.9 L786.1,2131.3 L788.1,2131.7 L790.1,2132.0 L792.1,2132.4 L794.1,2132.7 L796.1,2133.1 L798.1,2133.4 L800.1,2133.7 L802.1,2134.0 L804.1,2134.3 L806.1,2134.6 L808.1,2134.8 L810.1,2135.1 L812.1,2135.3 L814.1,2135.5 L816.1,2135.8 L818.1,2136.0 L820.1,2136.2 L822.1,2136.4 L824.1,2136.6 L826.1,2136.8 L828.1,2136.9 L830.1,2137.1 L832.1,2137.2 L834.1,2137.4 L836.1,2137.5 L838.1,2137.6 L840.1,2137.8 L842.1,2137.9 L844.1,2138.0 L846.1,2138.1 L848.1,2138.2 L850.1,2138.2 L852.1,2138.3 L854.1,2138.4 L856.1,2138.4 L858.1,2138.5 L860.1,2138.6 L862.1,2138.6 L864.1,2138.6 L866.1,2138.7 L868.1,2138.7 L870.1,2138.7 L872.1,2138.7 L874.1,2138.8 L876.1,2138.8 L878.1,2138.8 L880.1,2138.8 L882.1,2138.8 L884.1,2138.7 L886.1,2138.7 L888.1,2138.7 L890.1,2138.7 L892.1,2138.7 L894.1,2138.6 L896.1,2138.6 L898.1,2138.6 L900.1,2138.5 L902.1,2138.5 L904.1,2138.5 L906.1,2138.4 L908.1,2138.4 L910.1,2138.3 L912.1,2138.3 L914.1,2138.2 L916.1,2138.2 L918.1,2138.1 L920.1,2138.1 L922.1,2138.0 L924.1,2137.9 L926.1,2137.9 L928.1,2137.8 L930.1,2137.8 L932.1,2137.7 L934.1,2137.7 L936.1,2137.6 L938.1,2137.6 L940.1,2137.5 L942.1,2137.4 L944.1,2137.4 L946.1,2137.3 L946.3,2137.3" fill="none" stroke="#000" stroke-width="3.4" stroke-linejoin="round" stroke-linecap="round" /><path d="M322.1,2018.3 L324.1,2018.6 L326.1,2018.8 L328.1,2019.0 L330.1,2019.1 L332.1,2019.3 L334.1,2019.5 L336.1,2019.6 L338.1,2019.7 L340.1,2019.9 L342.1,2020.0 L344.1,2020.1 L346.1,2020.2 L348.1,2020.2 L350.1,2020.3 L352.1,2020.4 L354.1,2020.4 L356.1,2020.5 L358.1,2020.6 L360.1,2020.6 L362.1,2020.6 L364.1,2020.7 L366.1,2020.7 L368.1,2020.7 L370.1,2020.7 L372.1,2020.8 L374.1,2020.8 L376.1,2020.8 L378.1,2020.8 L380.1,2020.8 L382.1,2020.8 L384.1,2020.8 L386.1,2020.9 L388.1,2020.9 L390.1,2020.9 L392.1,2020.9 L394.1,2020.9 L396.1,2021.0 L398.1,2021.0 L400.1,2021.0 L402.1,2021.1 L404.1,2021.1 L406.1,2021.2 L408.1,2021.2 L410.1,2021.3 L412.1,2021.3 L414.1,2021.4 L416.1,2021.5 L418.1,2021.6 L420.1,2021.7 L422.1,2021.8 L424.1,2021.9 L426.1,2022.1 L428.1,2022.2 L430.1,2022.4 L432.1,2022.5 L434.1,2022.7 L436.1,2022.9 L438.1,2023.1 L440.1,2023.3 L442.1,2023.6 L444.1,2023.8 L446.1,2024.1 L448.1,2024.4 L450.1,2024.7 L452.1,2025.0 L454.1,2025.3 L456.1,2025.7 L458.1,2026.0 L460.1,2026.4 L462.1,2026.8 L464.1,2027.3 L466.1,2027.7 L468.1,2028.2 L470.1,2028.6 L472.1,2029.1 L474.1,2029.6 L476.1,2030.1 L478.1,2030.6 L480.1,2031.2 L482.1,2031.7 L484.1,2032.2 L486.1,2032.8 L488.1,2033.3 L490.1,2033.9 L492.1,2034.4 L494.1,2035.0 L496.1,2035.6 L498.1,2036.1 L500.1,2036.7 L502.1,2037.2 L504.1,2037.8 L506.1,2038.3 L508.1,2038.8 L510.1,2039.3 L512.1,2039.9 L514.1,2040.4 L516.1,2040.9 L518.1,2041.3 L520.1,2041.8 L522.1,2042.2 L524.1,2042.7 L526.1,2043.1 L528.1,2043.5 L530.1,2043.9 L532.1,2044.2 L534.1,2044.6 L536.1,2044.9 L538.1,2045.2 L540.1,2045.5 L542.1,2045.7 L544.1,2045.9 L546.1,2046.1 L548.1,2046.3 L550.1,2046.4 L552.1,2046.5 L554.1,2046.5 L556.1,2046.5 L558.1,2046.4 L560.1,2046.3 L562.1,2046.1 L564.1,2045.9 L566.1,2045.6 L568.1,2045.2 L570.1,2044.7 L572.1,2044.1 L574.1,2043.4 L576.1,2042.6 L578.1,2041.8 L580.1,2040.8 L582.1,2039.6 L584.1,2038.4 L586.1,2037.0 L588.1,2035.6 L590.1,2033.9 L592.1,2032.1 L594.1,2030.2 L596.1,2028.1 L598.1,2025.9 L600.1,2023.5 L602.1,2020.9 L604.1,2018.2 L606.1,2015.3 L608.1,2012.2 L610.1,2008.9 L612.1,2005.4 L614.1,2001.7 L616.1,1997.8 L618.1,1993.6 L620.1,1989.3 L622.1,1984.8 L624.1,1980.1 L626.1,1975.2 L628.1,1970.1 L630.1,1964.9 L632.1,1959.4 L634.1,1953.9 L636.1,1948.1 L638.1,1942.3 L640.1,1936.3 L642.1,1930.1 L644.1,1923.8 L646.1,1917.5 L648.1,1911.0 L650.1,1904.5 L652.1,1897.9 L654.1,1891.3 L656.1,1884.6 L658.1,1878.0 L660.1,1871.4 L662.1,1864.9 L664.1,1858.4 L666.1,1852.0 L668.1,1845.7 L670.1,1839.6 L672.1,1833.6 L674.1,1827.8 L676.1,1822.2 L678.1,1816.8 L680.1,1811.6 L682.1,1806.7 L684.1,1802.0 L686.1,1797.7 L688.1,1793.7 L690.1,1790.0 L692.1,1786.7 L694.1,1783.8 L696.1,1781.2 L698.1,1779.1 L700.1,1777.5 L702.1,1776.3 L704.1,1775.6 L706.1,1775.4 L708.1,1775.7 L710.1,1776.4 L712.1,1777.5 L714.1,1779.1 L716.1,1781.1 L718.1,1783.5 L720.1,1786.4 L722.1,1789.6 L724.1,1793.2 L726.1,1797.2 L728.1,1801.5 L730.1,1806.2 L732.1,1811.2 L734.1,1816.6 L736.1,1822.3 L738.1,1828.3 L740.1,1834.6 L742.1,1841.2 L744.1,1848.0 L746.1,1855.1 L748.1,1862.5 L750.1,1870.1 L752.1,1877.9 L754.1,1885.8 L756.1,1893.9 L758.1,1902.0 L760.1,1910.2 L762.1,1918.4 L764.1,1926.6 L766.1,1934.8 L768.1,1942.9 L770.1,1950.9 L772.1,1958.8 L774.1,1966.6 L776.1,1974.3 L778.1,1981.8 L780.1,1989.1 L782.1,1996.3 L784.1,2003.3 L786.1,2010.1 L788.1,2016.8 L790.1,2023.3 L792.1,2029.5 L794.1,2035.6 L796.1,2041.5 L798.1,2047.2 L800.1,2052.6 L802.1,2057.9 L804.1,2062.9 L806.1,2067.7 L808.1,2072.3 L810.1,2076.6 L812.1,2080.8 L814.1,2084.7 L816.1,2088.3 L818.1,2091.8 L820.1,2095.0 L822.1,2098.1 L824.1,2100.9 L826.1,2103.6 L828.1,2106.2 L830.1,2108.5 L832.1,2110.8 L834.1,2112.9 L836.1,2114.8 L838.1,2116.7 L840.1,2118.4 L842.1,2120.1 L844.1,2121.6 L846.1,2123.1 L848.1,2124.4 L850.1,2125.6 L852.1,2126.8 L854.1,2127.9 L856.1,2128.9 L858.1,2129.8 L860.1,2130.6 L862.1,2131.3 L864.1,2132.0 L866.1,2132.6 L868.1,2133.2 L870.1,2133.6 L872.1,2134.1 L874.1,2134.4 L876.1,2134.7 L878.1,2135.0 L880.1,2135.2 L882.1,2135.4 L884.1,2135.5 L886.1,2135.6 L888.1,2135.7 L890.1,2135.7 L892.1,2135.7 L894.1,2135.7 L896.1,2135.6 L898.1,2135.5 L900.1,2135.5 L902.1,2135.4 L904.1,2135.3 L906.1,2135.2 L908.1,2135.1 L910.1,2135.0 L912.1,2134.8 L914.1,2134.7 L916.1,2134.7 L918.1,2134.6 L920.1,2134.5 L922.1,2134.5 L924.1,2134.5 L926.1,2134.5 L928.1,2134.5 L930.1,2134.6 L932.1,2134.7 L934.1,2134.8 L936.1,2135.0 L938.1,2135.2 L940.1,2135.5 L942.1,2135.8 L944.1,2136.2 L946.1,2136.7 L946.3,2136.7" fill="none" stroke="#00f000" stroke-width="3.2" stroke-linejoin="round" stroke-linecap="round" stroke-dasharray="12.0 13.0" stroke-dashoffset="17.0" stroke-linecap="butt"/><path d="M322.1,2012.7 L324.1,2012.2 L326.1,2011.7 L328.1,2011.3 L330.1,2010.8 L332.1,2010.5 L334.1,2010.1 L336.1,2009.8 L338.1,2009.5 L340.1,2009.2 L342.1,2009.0 L344.1,2008.8 L346.1,2008.5 L348.1,2008.3 L350.1,2008.2 L352.1,2008.0 L354.1,2007.8 L356.1,2007.7 L358.1,2007.5 L360.1,2007.3 L362.1,2007.2 L364.1,2007.0 L366.1,2006.8 L368.1,2006.6 L370.1,2006.4 L372.1,2006.2 L374.1,2006.0 L376.1,2005.7 L378.1,2005.5 L380.1,2005.2 L382.1,2004.8 L384.1,2004.5 L386.1,2004.1 L388.1,2003.7 L390.1,2003.2 L392.1,2002.7 L394.1,2002.1 L396.1,2001.6 L398.1,2000.9 L400.1,2000.2 L402.1,1999.5 L404.1,1998.7 L406.1,1997.8 L408.1,1996.9 L410.1,1995.9 L412.1,1994.9 L414.1,1993.8 L416.1,1992.6 L418.1,1991.4 L420.1,1990.1 L422.1,1988.8 L424.1,1987.3 L426.1,1985.9 L428.1,1984.3 L430.1,1982.8 L432.1,1981.1 L434.1,1979.4 L436.1,1977.6 L438.1,1975.8 L440.1,1973.9 L442.1,1971.9 L444.1,1969.9 L446.1,1967.9 L448.1,1965.7 L450.1,1963.6 L452.1,1961.3 L454.1,1959.0 L456.1,1956.6 L458.1,1954.2 L460.1,1951.8 L462.1,1949.2 L464.1,1946.6 L466.1,1944.0 L468.1,1941.3 L470.1,1938.5 L472.1,1935.7 L474.1,1932.8 L476.1,1929.9 L478.1,1926.9 L480.1,1923.9 L482.1,1920.8 L484.1,1917.7 L486.1,1914.5 L488.1,1911.3 L490.1,1908.2 L492.1,1905.0 L494.1,1901.9 L496.1,1898.8 L498.1,1895.7 L500.1,1892.7 L502.1,1889.8 L504.1,1887.0 L506.1,1884.3 L508.1,1881.7 L510.1,1879.2 L512.1,1876.8 L514.1,1874.7 L516.1,1872.7 L518.1,1870.8 L520.1,1869.2 L522.1,1867.7 L524.1,1866.5 L526.1,1865.6 L528.1,1864.8 L530.1,1864.3 L532.1,1864.1 L534.1,1864.1 L536.1,1864.3 L538.1,1864.8 L540.1,1865.5 L542.1,1866.4 L544.1,1867.5 L546.1,1868.9 L548.1,1870.4 L550.1,1872.2 L552.1,1874.1 L554.1,1876.3 L556.1,1878.6 L558.1,1881.1 L560.1,1883.9 L562.1,1886.8 L564.1,1889.8 L566.1,1893.0 L568.1,1896.4 L570.1,1900.0 L572.1,1903.7 L574.1,1907.5 L576.1,1911.5 L578.1,1915.6 L580.1,1919.7 L582.1,1923.9 L584.1,1928.2 L586.1,1932.6 L588.1,1937.0 L590.1,1941.4 L592.1,1945.8 L594.1,1950.2 L596.1,1954.6 L598.1,1959.0 L600.1,1963.3 L602.1,1967.5 L604.1,1971.7 L606.1,1975.8 L608.1,1979.8 L610.1,1983.7 L612.1,1987.5 L614.1,1991.1 L616.1,1994.7 L618.1,1998.1 L620.1,2001.5 L622.1,2004.7 L624.1,2007.8 L626.1,2010.9 L628.1,2013.9 L630.1,2016.8 L632.1,2019.6 L634.1,2022.3 L636.1,2025.0 L638.1,2027.7 L640.1,2030.2 L642.1,2032.7 L644.1,2035.2 L646.1,2037.6 L648.1,2040.0 L650.1,2042.3 L652.1,2044.5 L654.1,2046.8 L656.1,2048.9 L658.1,2051.0 L660.1,2053.1 L662.1,2055.2 L664.1,2057.2 L666.1,2059.1 L668.1,2061.0 L670.1,2062.9 L672.1,2064.7 L674.1,2066.5 L676.1,2068.3 L678.1,2070.0 L680.1,2071.7 L682.1,2073.3 L684.1,2075.0 L686.1,2076.6 L688.1,2078.1 L690.1,2079.7 L692.1,2081.2 L694.1,2082.6 L696.1,2084.1 L698.1,2085.5 L700.1,2086.9 L702.1,2088.3 L704.1,2089.6 L706.1,2090.9 L708.1,2092.2 L710.1,2093.5 L712.1,2094.7 L714.1,2096.0 L716.1,2097.2 L718.1,2098.4 L720.1,2099.5 L722.1,2100.6 L724.1,2101.8 L726.1,2102.8 L728.1,2103.9 L730.1,2105.0 L732.1,2106.0 L734.1,2107.0 L736.1,2108.0 L738.1,2108.9 L740.1,2109.9 L742.1,2110.8 L744.1,2111.7 L746.1,2112.6 L748.1,2113.4 L750.1,2114.3 L752.1,2115.1 L754.1,2115.9 L756.1,2116.7 L758.1,2117.4 L760.1,2118.2 L762.1,2118.9 L764.1,2119.6 L766.1,2120.3 L768.1,2121.0 L770.1,2121.6 L772.1,2122.3 L774.1,2122.9 L776.1,2123.5 L778.1,2124.1 L780.1,2124.6 L782.1,2125.2 L784.1,2125.7 L786.1,2126.3 L788.1,2126.8 L790.1,2127.3 L792.1,2127.7 L794.1,2128.2 L796.1,2128.6 L798.1,2129.1 L800.1,2129.5 L802.1,2129.9 L804.1,2130.3 L806.1,2130.7 L808.1,2131.0 L810.1,2131.4 L812.1,2131.7 L814.1,2132.0 L816.1,2132.4 L818.1,2132.7 L820.1,2133.0 L822.1,2133.2 L824.1,2133.5 L826.1,2133.8 L828.1,2134.0 L830.1,2134.2 L832.1,2134.4 L834.1,2134.7 L836.1,2134.9 L838.1,2135.1 L840.1,2135.2 L842.1,2135.4 L844.1,2135.6 L846.1,2135.7 L848.1,2135.9 L850.1,2136.0 L852.1,2136.1 L854.1,2136.2 L856.1,2136.4 L858.1,2136.5 L860.1,2136.6 L862.1,2136.6 L864.1,2136.7 L866.1,2136.8 L868.1,2136.9 L870.1,2136.9 L872.1,2137.0 L874.1,2137.0 L876.1,2137.1 L878.1,2137.1 L880.1,2137.1 L882.1,2137.2 L884.1,2137.2 L886.1,2137.2 L888.1,2137.2 L890.1,2137.2 L892.1,2137.2 L894.1,2137.2 L896.1,2137.2 L898.1,2137.2 L900.1,2137.2 L902.1,2137.2 L904.1,2137.2 L906.1,2137.2 L908.1,2137.1 L910.1,2137.1 L912.1,2137.1 L914.1,2137.1 L916.1,2137.0 L918.1,2137.0 L920.1,2137.0 L922.1,2136.9 L924.1,2136.9 L926.1,2136.9 L928.1,2136.8 L930.1,2136.8 L932.1,2136.8 L934.1,2136.8 L936.1,2136.7 L938.1,2136.7 L940.1,2136.7 L942.1,2136.6 L944.1,2136.6 L946.1,2136.6 L946.3,2136.6" fill="none" stroke="#00f000" stroke-width="3.2" stroke-linejoin="round" stroke-linecap="round" stroke-dasharray="12.0 13.0" stroke-dashoffset="4.1" stroke-linecap="butt"/><path d="M322.1,2014.3 L324.1,2014.2 L326.1,2014.1 L328.1,2013.9 L330.1,2013.8 L332.1,2013.7 L334.1,2013.6 L336.1,2013.5 L338.1,2013.3 L340.1,2013.2 L342.1,2013.0 L344.1,2012.8 L346.1,2012.6 L348.1,2012.4 L350.1,2012.2 L352.1,2011.9 L354.1,2011.7 L356.1,2011.4 L358.1,2011.1 L360.1,2010.8 L362.1,2010.4 L364.1,2010.0 L366.1,2009.6 L368.1,2009.2 L370.1,2008.7 L372.1,2008.3 L374.1,2007.7 L376.1,2007.2 L378.1,2006.6 L380.1,2005.9 L382.1,2005.3 L384.1,2004.6 L386.1,2003.8 L388.1,2003.0 L390.1,2002.2 L392.1,2001.3 L394.1,2000.4 L396.1,1999.5 L398.1,1998.5 L400.1,1997.5 L402.1,1996.5 L404.1,1995.4 L406.1,1994.3 L408.1,1993.2 L410.1,1992.1 L412.1,1990.9 L414.1,1989.7 L416.1,1988.5 L418.1,1987.3 L420.1,1986.1 L422.1,1984.8 L424.1,1983.5 L426.1,1982.2 L428.1,1980.9 L430.1,1979.6 L432.1,1978.3 L434.1,1977.0 L436.1,1975.7 L438.1,1974.3 L440.1,1973.0 L442.1,1971.7 L444.1,1970.3 L446.1,1969.0 L448.1,1967.7 L450.1,1966.4 L452.1,1965.2 L454.1,1964.0 L456.1,1962.8 L458.1,1961.7 L460.1,1960.6 L462.1,1959.6 L464.1,1958.7 L466.1,1957.8 L468.1,1957.0 L470.1,1956.3 L472.1,1955.7 L474.1,1955.1 L476.1,1954.7 L478.1,1954.4 L480.1,1954.2 L482.1,1954.1 L484.1,1954.1 L486.1,1954.3 L488.1,1954.6 L490.1,1955.1 L492.1,1955.7 L494.1,1956.4 L496.1,1957.2 L498.1,1958.2 L500.1,1959.3 L502.1,1960.5 L504.1,1961.8 L506.1,1963.2 L508.1,1964.7 L510.1,1966.3 L512.1,1967.9 L514.1,1969.7 L516.1,1971.5 L518.1,1973.4 L520.1,1975.3 L522.1,1977.3 L524.1,1979.3 L526.1,1981.3 L528.1,1983.4 L530.1,1985.6 L532.1,1987.7 L534.1,1989.9 L536.1,1992.1 L538.1,1994.2 L540.1,1996.4 L542.1,1998.6 L544.1,2000.7 L546.1,2002.9 L548.1,2005.0 L550.1,2007.1 L552.1,2009.1 L554.1,2011.1 L556.1,2013.1 L558.1,2015.0 L560.1,2016.8 L562.1,2018.6 L564.1,2020.4 L566.1,2022.1 L568.1,2023.7 L570.1,2025.3 L572.1,2026.9 L574.1,2028.4 L576.1,2029.9 L578.1,2031.4 L580.1,2032.8 L582.1,2034.1 L584.1,2035.5 L586.1,2036.8 L588.1,2038.1 L590.1,2039.4 L592.1,2040.6 L594.1,2041.8 L596.1,2043.0 L598.1,2044.2 L600.1,2045.4 L602.1,2046.6 L604.1,2047.7 L606.1,2048.8 L608.1,2050.0 L610.1,2051.1 L612.1,2052.2 L614.1,2053.3 L616.1,2054.4 L618.1,2055.6 L620.1,2056.7 L622.1,2057.8 L624.1,2058.9 L626.1,2060.1 L628.1,2061.2 L630.1,2062.3 L632.1,2063.5 L634.1,2064.6 L636.1,2065.8 L638.1,2066.9 L640.1,2068.1 L642.1,2069.2 L644.1,2070.4 L646.1,2071.5 L648.1,2072.7 L650.1,2073.8 L652.1,2075.0 L654.1,2076.1 L656.1,2077.3 L658.1,2078.4 L660.1,2079.6 L662.1,2080.7 L664.1,2081.8 L666.1,2082.9 L668.1,2084.0 L670.1,2085.1 L672.1,2086.2 L674.1,2087.3 L676.1,2088.4 L678.1,2089.5 L680.1,2090.5 L682.1,2091.6 L684.1,2092.6 L686.1,2093.7 L688.1,2094.7 L690.1,2095.7 L692.1,2096.7 L694.1,2097.7 L696.1,2098.7 L698.1,2099.6 L700.1,2100.6 L702.1,2101.5 L704.1,2102.4 L706.1,2103.3 L708.1,2104.2 L710.1,2105.0 L712.1,2105.9 L714.1,2106.8 L716.1,2107.6 L718.1,2108.4 L720.1,2109.2 L722.1,2110.0 L724.1,2110.8 L726.1,2111.5 L728.1,2112.3 L730.1,2113.0 L732.1,2113.7 L734.1,2114.5 L736.1,2115.2 L738.1,2115.8 L740.1,2116.5 L742.1,2117.2 L744.1,2117.8 L746.1,2118.5 L748.1,2119.1 L750.1,2119.7 L752.1,2120.3 L754.1,2120.9 L756.1,2121.5 L758.1,2122.0 L760.1,2122.6 L762.1,2123.1 L764.1,2123.7 L766.1,2124.2 L768.1,2124.7 L770.1,2125.2 L772.1,2125.7 L774.1,2126.2 L776.1,2126.6 L778.1,2127.1 L780.1,2127.5 L782.1,2127.9 L784.1,2128.4 L786.1,2128.8 L788.1,2129.2 L790.1,2129.6 L792.1,2130.0 L794.1,2130.3 L796.1,2130.7 L798.1,2131.0 L800.1,2131.4 L802.1,2131.7 L804.1,2132.0 L806.1,2132.3 L808.1,2132.7 L810.1,2132.9 L812.1,2133.2 L814.1,2133.5 L816.1,2133.8 L818.1,2134.0 L820.1,2134.3 L822.1,2134.5 L824.1,2134.8 L826.1,2135.0 L828.1,2135.2 L830.1,2135.4 L832.1,2135.6 L834.1,2135.8 L836.1,2136.0 L838.1,2136.1 L840.1,2136.3 L842.1,2136.5 L844.1,2136.6 L846.1,2136.8 L848.1,2136.9 L850.1,2137.0 L852.1,2137.2 L854.1,2137.3 L856.1,2137.4 L858.1,2137.5 L860.1,2137.6 L862.1,2137.7 L864.1,2137.7 L866.1,2137.8 L868.1,2137.9 L870.1,2137.9 L872.1,2138.0 L874.1,2138.0 L876.1,2138.1 L878.1,2138.1 L880.1,2138.1 L882.1,2138.2 L884.1,2138.2 L886.1,2138.2 L888.1,2138.2 L890.1,2138.2 L892.1,2138.2 L894.1,2138.2 L896.1,2138.2 L898.1,2138.1 L900.1,2138.1 L902.1,2138.1 L904.1,2138.0 L906.1,2138.0 L908.1,2137.9 L910.1,2137.9 L912.1,2137.8 L914.1,2137.8 L916.1,2137.7 L918.1,2137.6 L920.1,2137.6 L922.1,2137.5 L924.1,2137.4 L926.1,2137.3 L928.1,2137.2 L930.1,2137.2 L932.1,2137.1 L934.1,2137.0 L936.1,2136.9 L938.1,2136.7 L940.1,2136.6 L942.1,2136.5 L944.1,2136.4 L946.1,2136.3 L946.3,2136.3" fill="none" stroke="#0000ff" stroke-width="3.2" stroke-linejoin="round" stroke-linecap="round" /><path d="M322.1,2016.9 L324.1,2017.0 L326.1,2017.1 L328.1,2017.2 L330.1,2017.3 L332.1,2017.3 L334.1,2017.4 L336.1,2017.5 L338.1,2017.5 L340.1,2017.6 L342.1,2017.6 L344.1,2017.7 L346.1,2017.7 L348.1,2017.8 L350.1,2017.8 L352.1,2017.8 L354.1,2017.8 L356.1,2017.8 L358.1,2017.9 L360.1,2017.9 L362.1,2017.9 L364.1,2017.9 L366.1,2017.9 L368.1,2017.9 L370.1,2017.9 L372.1,2017.9 L374.1,2017.9 L376.1,2017.9 L378.1,2017.9 L380.1,2017.9 L382.1,2017.9 L384.1,2017.9 L386.1,2017.9 L388.1,2018.0 L390.1,2018.0 L392.1,2018.0 L394.1,2018.0 L396.1,2018.0 L398.1,2018.1 L400.1,2018.1 L402.1,2018.2 L404.1,2018.2 L406.1,2018.3 L408.1,2018.3 L410.1,2018.4 L412.1,2018.5 L414.1,2018.5 L416.1,2018.6 L418.1,2018.7 L420.1,2018.8 L422.1,2018.9 L424.1,2019.1 L426.1,2019.2 L428.1,2019.3 L430.1,2019.5 L432.1,2019.6 L434.1,2019.8 L436.1,2020.0 L438.1,2020.2 L440.1,2020.4 L442.1,2020.6 L444.1,2020.9 L446.1,2021.1 L448.1,2021.4 L450.1,2021.7 L452.1,2021.9 L454.1,2022.2 L456.1,2022.6 L458.1,2022.9 L460.1,2023.3 L462.1,2023.6 L464.1,2024.0 L466.1,2024.4 L468.1,2024.8 L470.1,2025.2 L472.1,2025.6 L474.1,2026.1 L476.1,2026.5 L478.1,2026.9 L480.1,2027.4 L482.1,2027.8 L484.1,2028.2 L486.1,2028.7 L488.1,2029.1 L490.1,2029.5 L492.1,2029.9 L494.1,2030.4 L496.1,2030.7 L498.1,2031.1 L500.1,2031.5 L502.1,2031.9 L504.1,2032.2 L506.1,2032.5 L508.1,2032.9 L510.1,2033.1 L512.1,2033.4 L514.1,2033.7 L516.1,2033.9 L518.1,2034.1 L520.1,2034.2 L522.1,2034.4 L524.1,2034.5 L526.1,2034.5 L528.1,2034.6 L530.1,2034.6 L532.1,2034.6 L534.1,2034.5 L536.1,2034.4 L538.1,2034.2 L540.1,2034.0 L542.1,2033.8 L544.1,2033.5 L546.1,2033.2 L548.1,2032.8 L550.1,2032.4 L552.1,2031.9 L554.1,2031.4 L556.1,2030.8 L558.1,2030.1 L560.1,2029.4 L562.1,2028.7 L564.1,2027.9 L566.1,2027.0 L568.1,2026.1 L570.1,2025.1 L572.1,2024.0 L574.1,2022.9 L576.1,2021.7 L578.1,2020.4 L580.1,2019.1 L582.1,2017.8 L584.1,2016.3 L586.1,2014.9 L588.1,2013.3 L590.1,2011.7 L592.1,2010.0 L594.1,2008.2 L596.1,2006.4 L598.1,2004.5 L600.1,2002.6 L602.1,2000.6 L604.1,1998.5 L606.1,1996.4 L608.1,1994.2 L610.1,1991.9 L612.1,1989.6 L614.1,1987.3 L616.1,1984.9 L618.1,1982.6 L620.1,1980.3 L622.1,1978.0 L624.1,1975.7 L626.1,1973.5 L628.1,1971.3 L630.1,1969.2 L632.1,1967.2 L634.1,1965.3 L636.1,1963.5 L638.1,1961.8 L640.1,1960.3 L642.1,1958.9 L644.1,1957.6 L646.1,1956.5 L648.1,1955.6 L650.1,1954.9 L652.1,1954.4 L654.1,1954.1 L656.1,1954.0 L658.1,1954.1 L660.1,1954.4 L662.1,1955.0 L664.1,1955.7 L666.1,1956.7 L668.1,1958.0 L670.1,1959.4 L672.1,1961.1 L674.1,1962.9 L676.1,1965.0 L678.1,1967.3 L680.1,1969.7 L682.1,1972.3 L684.1,1975.1 L686.1,1978.0 L688.1,1981.1 L690.1,1984.3 L692.1,1987.6 L694.1,1991.1 L696.1,1994.6 L698.1,1998.3 L700.1,2002.0 L702.1,2005.8 L704.1,2009.7 L706.1,2013.6 L708.1,2017.5 L710.1,2021.5 L712.1,2025.4 L714.1,2029.4 L716.1,2033.4 L718.1,2037.3 L720.1,2041.2 L722.1,2045.1 L724.1,2048.8 L726.1,2052.5 L728.1,2056.1 L730.1,2059.7 L732.1,2063.1 L734.1,2066.4 L736.1,2069.6 L738.1,2072.7 L740.1,2075.7 L742.1,2078.5 L744.1,2081.3 L746.1,2084.0 L748.1,2086.6 L750.1,2089.1 L752.1,2091.5 L754.1,2093.8 L756.1,2096.0 L758.1,2098.1 L760.1,2100.1 L762.1,2102.0 L764.1,2103.9 L766.1,2105.6 L768.1,2107.2 L770.1,2108.8 L772.1,2110.3 L774.1,2111.7 L776.1,2113.1 L778.1,2114.3 L780.1,2115.5 L782.1,2116.7 L784.1,2117.7 L786.1,2118.7 L788.1,2119.7 L790.1,2120.5 L792.1,2121.4 L794.1,2122.2 L796.1,2122.9 L798.1,2123.6 L800.1,2124.2 L802.1,2124.8 L804.1,2125.4 L806.1,2125.9 L808.1,2126.4 L810.1,2126.8 L812.1,2127.2 L814.1,2127.6 L816.1,2128.0 L818.1,2128.4 L820.1,2128.7 L822.1,2129.0 L824.1,2129.4 L826.1,2129.6 L828.1,2129.9 L830.1,2130.2 L832.1,2130.5 L834.1,2130.8 L836.1,2131.1 L838.1,2131.3 L840.1,2131.6 L842.1,2131.9 L844.1,2132.1 L846.1,2132.4 L848.1,2132.6 L850.1,2132.8 L852.1,2133.1 L854.1,2133.3 L856.1,2133.5 L858.1,2133.8 L860.1,2134.0 L862.1,2134.2 L864.1,2134.4 L866.1,2134.6 L868.1,2134.8 L870.1,2135.0 L872.1,2135.1 L874.1,2135.3 L876.1,2135.5 L878.1,2135.6 L880.1,2135.8 L882.1,2135.9 L884.1,2136.1 L886.1,2136.2 L888.1,2136.3 L890.1,2136.5 L892.1,2136.6 L894.1,2136.7 L896.1,2136.8 L898.1,2136.9 L900.1,2137.0 L902.1,2137.0 L904.1,2137.1 L906.1,2137.2 L908.1,2137.2 L910.1,2137.3 L912.1,2137.3 L914.1,2137.3 L916.1,2137.4 L918.1,2137.4 L920.1,2137.4 L922.1,2137.4 L924.1,2137.4 L926.1,2137.3 L928.1,2137.3 L930.1,2137.3 L932.1,2137.2 L934.1,2137.2 L936.1,2137.1 L938.1,2137.0 L940.1,2137.0 L942.1,2136.9 L944.1,2136.8 L946.1,2136.6 L946.3,2136.6" fill="none" stroke="#0000ff" stroke-width="3.2" stroke-linejoin="round" stroke-linecap="round" /><path d="M86.3,1811.0 L88.7,1813.4 L91.0,1816.9 L94.0,1812.8 L95.7,1819.2 L96.9,1826.3 L99.2,1826.3 L101.6,1833.3 L102.8,1836.8 L104.5,1834.5 L105.7,1823.9 L106.9,1819.2 L107.4,1808.7 L109.8,1804.0 L111.5,1812.2 L112.7,1830.9 L114.5,1835.6 L115.6,1841.5 L117.4,1833.3 L118.6,1820.4 L120.3,1818.0 L122.7,1821.6 L125.0,1822.7 L127.4,1820.4 L128.5,1816.9 L129.1,1807.5 L130.9,1801.6 L131.5,1792.3 L132.6,1788.8 L134.4,1794.6 L135.6,1808.7 L137.3,1811.0 L139.1,1805.2 L140.8,1800.5 L142.0,1808.7 L144.4,1813.4 L145.5,1806.3 L147.3,1801.6 L148.5,1792.3 L151.4,1784.1 L153.1,1787.6 L154.3,1795.8 L156.7,1800.5 L159.6,1799.3 L161.9,1794.6 L166.0,1791.1 L170.1,1791.1 L171.3,1795.8 L173.6,1807.5 L175.4,1799.3 L177.8,1793.4 L180.1,1791.1 L181.9,1782.9 L183.6,1782.9 L186.5,1786.4 L188.3,1794.6 L190.1,1807.5 L193.0,1806.3 L196.5,1808.7 L199.4,1812.2 L200.6,1820.2 L201.9,1824.0 L205.1,1827.8 L205.7,1834.1 L207.0,1835.4 L207.6,1844.3 L208.9,1848.1 L209.5,1854.4 L211.4,1854.4 L212.7,1849.4 L216.5,1845.5 L219.0,1848.1 L220.3,1858.2 L221.6,1864.6 L223.5,1868.4 L225.4,1864.6 L227.3,1864.6 L228.6,1867.1 L228.6,1886.2 L230.5,1888.7 L231.1,1903.9 L232.4,1903.9 L233.6,1887.4 L235.5,1891.2 L236.2,1906.5 L237.5,1907.8 L238.1,1930.6 L239.4,1934.4 L240.6,1929.3 L241.9,1915.4 L243.8,1911.6 L245.1,1919.2 L247.0,1924.3 L247.6,1929.3 L249.5,1931.9 L251.4,1930.6 L253.5,1933.0 L254.1,1951.7 L255.9,1962.3 L257.6,1957.6 L259.4,1954.1 L261.7,1955.2 L262.9,1962.3 L264.6,1963.4 L265.2,1970.5 L267.0,1972.8 L267.6,1978.7 L268.8,1991.6 L269.9,1992.7 L271.1,1989.2 L271.7,1978.7 L273.4,1976.3 L274.6,1967.0 L275.8,1969.3 L277.0,1972.8 L278.1,1983.4 L279.9,1986.9 L280.5,1983.4 L282.8,1984.5 L284.6,1986.9 L285.2,1998.6 L286.9,2003.3 L288.7,1997.4 L290.4,1996.3 L292.8,1996.3 L294.1,1996.5 L296.2,2003.3 L297.5,2015.6 L299.6,2021.1 L301.6,2014.3 L303.7,2008.8 L307.1,2012.9 L311.9,2004.7 L314.6,2007.4 L316.7,2014.3 L320.8,2017.0 L322.8,2025.2 L325.5,2021.1 L329.6,2022.5 L331.0,2027.9 L332.4,2008.8 L333.8,1999.2 L336.5,2002.0 L337.9,2007.4 L340.6,2007.4 L344.7,2008.8 L347.4,2012.9 L348.8,2023.8 L350.8,2019.7 L353.6,2007.4 L355.6,2004.7 L358.4,2004.7 L361.1,2000.6 L363.8,1996.5 L366.6,1999.2 L367.9,2006.1 L370.0,1991.0 L370.7,1984.2 L373.4,1985.5 L376.1,1988.3 L378.9,1995.1 L380.9,1986.9 L384.3,1985.5 L386.4,1991.0 L387.1,1981.4 L388.4,1970.5 L390.5,1969.1 L392.5,1978.7 L395.3,1963.7 L397.3,1955.5 L398.7,1951.4 L400.7,1959.6 L403.5,1960.9 L406.2,1965.0 L408.9,1955.5 L411.7,1958.2 L414.4,1955.5 L415.9,1955.4 L422.8,1945.9 L424.1,1934.9 L426.9,1925.4 L430.3,1928.1 L435.1,1937.7 L436.4,1934.9 L438.5,1915.8 L441.2,1900.7 L446.7,1893.9 L450.1,1898.0 L452.2,1902.1 L454.9,1888.4 L455.6,1873.4 L459.7,1870.7 L462.4,1867.9 L463.8,1859.7 L467.2,1855.6 L470.6,1865.2 L475.4,1863.8 L478.8,1852.9 L480.2,1837.9 L481.6,1825.5 L483.6,1822.8 L485.7,1835.1 L487.0,1848.8 L489.1,1835.1 L491.1,1811.9 L493.9,1817.3 L498.0,1821.4 L500.7,1810.5 L504.8,1805.0 L506.2,1816.0 L507.5,1801.0 L511.6,1809.1 L514.4,1822.8 L518.5,1817.3 L521.2,1810.5 L524.0,1802.3 L526.0,1792.7 L527.5,1782.0 L529.8,1776.1 L533.8,1780.0 L535.3,1792.5 L536.1,1803.4 L537.7,1814.4 L540.0,1817.5 L544.1,1822.0 L550.9,1822.0 L556.4,1830.2 L559.8,1848.0 L562.6,1838.4 L566.0,1838.4 L568.7,1849.4 L572.8,1863.0 L575.5,1863.0 L578.3,1853.5 L581.0,1860.3 L583.8,1875.4 L586.5,1861.7 L590.6,1858.9 L592.0,1843.9 L594.7,1830.2 L598.1,1835.7 L600.2,1849.4 L602.9,1859.0 L605.6,1853.5 L608.4,1839.8 L612.5,1830.2 L616.6,1824.8 L620.7,1819.3 L622.0,1804.3 L624.8,1798.8 L628.9,1796.1 L633.0,1787.9 L637.1,1779.7 L640.0,1792.2 L641.4,1779.9 L642.7,1764.8 L644.1,1751.2 L648.2,1755.3 L650.9,1748.4 L655.0,1745.7 L657.8,1744.3 L657.8,1726.6 L661.9,1723.8 L664.6,1710.2 L667.3,1695.1 L670.1,1682.8 L674.2,1691.0 L677.6,1671.9 L681.7,1678.7 L685.1,1673.2 L689.9,1669.1 L692.0,1658.2 L694.7,1656.8 L697.4,1660.9 L698.8,1671.9 L702.9,1671.9 L708.4,1666.4 L709.7,1676.0 L711.1,1686.9 L711.8,1702.0 L714.5,1707.4 L716.6,1696.5 L721.4,1700.6 L722.0,1710.2 L723.4,1732.0 L727.5,1725.2 L729.6,1732.0 L733.0,1748.4 L735.7,1748.4 L737.1,1758.0 L739.8,1786.7 L743.9,1784.0 L748.0,1790.8 L749.4,1807.2 L750.7,1820.9 L752.3,1830.1 L756.4,1834.2 L759.1,1853.3 L763.2,1858.8 L764.6,1887.5 L768.7,1912.1 L775.5,1916.2 L778.3,1929.9 L779.7,1957.2 L785.1,1979.1 L794.7,2016.0 L804.3,2037.9 L805.6,2046.1 L807.6,2063.4 L811.5,2073.2 L815.4,2065.4 L819.3,2069.3 L823.2,2079.1 L827.1,2075.2 L831.0,2094.7 L836.9,2106.4 L842.7,2108.4 L848.6,2116.2 L852.5,2116.2 L858.4,2125.9 L864.2,2116.2 L868.1,2120.1 L874.0,2118.1 L877.9,2125.9 L880.8,2114.2 L883.8,2116.2 L885.7,2137.7 L887.7,2145.5 L889.6,2139.6 L893.5,2133.8 L899.4,2135.7 L907.2,2133.8 L911.1,2129.8 L915.0,2145.5 L918.9,2149.4 L921.8,2159.1 L924.8,2141.6 L926.7,2129.8 L929.6,2139.6 L932.6,2129.8 L934.5,2137.7 L936.5,2155.2 L939.4,2155.2 L941.4,2122.0 L944.3,2122.0 L948.2,2129.8 L950.2,2125.9 L952.1,2137.7 L955.0,2147.4 L958.0,2145.5 L961.9,2143.5 L965.8,2129.8 L969.7,2131.8 L973.6,2125.9 L977.5,2118.1 L981.4,2112.3" fill="none" stroke="#000" stroke-width="1.5" stroke-linejoin="round" stroke-linecap="round" stroke-linecap="butt"/><path d="M322.1,2006.1 L324.1,2005.7 L326.1,2005.4 L328.1,2005.0 L330.1,2004.7 L332.1,2004.3 L334.1,2004.0 L336.1,2003.6 L338.1,2003.3 L340.1,2002.9 L342.1,2002.6 L344.1,2002.2 L346.1,2001.8 L348.1,2001.4 L350.1,2001.0 L352.1,2000.5 L354.1,2000.0 L356.1,1999.5 L358.1,1999.0 L360.1,1998.4 L362.1,1997.8 L364.1,1997.1 L366.1,1996.4 L368.1,1995.7 L370.1,1994.9 L372.1,1994.0 L374.1,1993.1 L376.1,1992.1 L378.1,1991.1 L380.1,1990.0 L382.1,1988.8 L384.1,1987.6 L386.1,1986.3 L388.1,1984.9 L390.1,1983.4 L392.1,1981.8 L394.1,1980.2 L396.1,1978.5 L398.1,1976.6 L400.1,1974.7 L402.1,1972.7 L404.1,1970.6 L406.1,1968.4 L408.1,1966.1 L410.1,1963.7 L412.1,1961.3 L414.1,1958.7 L416.1,1956.1 L418.1,1953.4 L420.1,1950.6 L422.1,1947.8 L424.1,1944.8 L426.1,1941.8 L428.1,1938.8 L430.1,1935.6 L432.1,1932.4 L434.1,1929.1 L436.1,1925.8 L438.1,1922.4 L440.1,1919.0 L442.1,1915.5 L444.1,1911.9 L446.1,1908.3 L448.1,1904.7 L450.1,1901.0 L452.1,1897.2 L454.1,1893.5 L456.1,1889.6 L458.1,1885.8 L460.1,1881.9 L462.1,1878.0 L464.1,1874.0 L466.1,1870.0 L468.1,1866.1 L470.1,1862.1 L472.1,1858.2 L474.1,1854.3 L476.1,1850.4 L478.1,1846.6 L480.1,1842.8 L482.1,1839.1 L484.1,1835.4 L486.1,1831.9 L488.1,1828.5 L490.1,1825.1 L492.1,1821.9 L494.1,1818.8 L496.1,1815.8 L498.1,1813.0 L500.1,1810.4 L502.1,1807.9 L504.1,1805.6 L506.1,1803.4 L508.1,1801.5 L510.1,1799.8 L512.1,1798.3 L514.1,1797.0 L516.1,1796.0 L518.1,1795.2 L520.1,1794.6 L522.1,1794.3 L524.1,1794.3 L526.1,1794.4 L528.1,1794.8 L530.1,1795.4 L532.1,1796.2 L534.1,1797.1 L536.1,1798.3 L538.1,1799.6 L540.1,1801.0 L542.1,1802.6 L544.1,1804.3 L546.1,1806.2 L548.1,1808.2 L550.1,1810.2 L552.1,1812.4 L554.1,1814.7 L556.1,1817.0 L558.1,1819.4 L560.1,1821.8 L562.1,1824.3 L564.1,1826.8 L566.1,1829.3 L568.1,1831.8 L570.1,1834.2 L572.1,1836.5 L574.1,1838.8 L576.1,1841.0 L578.1,1843.0 L580.1,1844.8 L582.1,1846.5 L584.1,1848.0 L586.1,1849.3 L588.1,1850.3 L590.1,1851.0 L592.1,1851.5 L594.1,1851.6 L596.1,1851.5 L598.1,1851.0 L600.1,1850.2 L602.1,1849.1 L604.1,1847.7 L606.1,1846.1 L608.1,1844.1 L610.1,1841.9 L612.1,1839.4 L614.1,1836.6 L616.1,1833.6 L618.1,1830.4 L620.1,1826.9 L622.1,1823.1 L624.1,1819.2 L626.1,1814.9 L628.1,1810.4 L630.1,1805.5 L632.1,1800.3 L634.1,1794.6 L636.1,1788.5 L638.1,1781.9 L640.1,1774.9 L642.1,1767.6 L644.1,1760.3 L646.1,1753.2 L648.1,1746.5 L650.1,1740.0 L652.1,1733.8 L654.1,1727.8 L656.1,1722.0 L658.1,1716.6 L660.1,1711.3 L662.1,1706.3 L664.1,1701.5 L666.1,1696.8 L668.1,1692.5 L670.1,1688.3 L672.1,1684.4 L674.1,1680.8 L676.1,1677.4 L678.1,1674.4 L680.1,1671.7 L682.1,1669.3 L684.1,1667.4 L686.1,1665.7 L688.1,1664.5 L690.1,1663.7 L692.1,1663.4 L694.1,1663.5 L696.1,1664.1 L698.1,1665.1 L700.1,1666.7 L702.1,1668.7 L704.1,1671.3 L706.1,1674.4 L708.1,1678.0 L710.1,1682.2 L712.1,1686.9 L714.1,1692.2 L716.1,1698.1 L718.1,1704.5 L720.1,1711.3 L722.1,1718.3 L724.1,1725.4 L726.1,1732.5 L728.1,1739.6 L730.1,1746.8 L732.1,1754.1 L734.1,1761.6 L736.1,1769.2 L738.1,1777.1 L740.1,1785.2 L742.1,1793.6 L744.1,1802.3 L746.1,1811.4 L748.1,1820.8 L750.1,1830.4 L752.1,1840.1 L754.1,1850.0 L756.1,1860.0 L758.1,1870.0 L760.1,1879.9 L762.1,1889.7 L764.1,1899.4 L766.1,1908.8 L768.1,1917.9 L770.1,1926.7 L772.1,1935.3 L774.1,1943.7 L776.1,1952.0 L778.1,1960.3 L780.1,1968.6 L782.1,1976.9 L784.1,1985.1 L786.1,1993.1 L788.1,2000.9 L790.1,2008.4 L792.1,2015.6 L794.1,2022.5 L796.1,2029.0 L798.1,2035.1 L800.1,2040.9 L802.1,2046.4 L804.1,2051.6 L806.1,2056.5 L808.1,2061.0 L810.1,2065.3 L812.1,2069.4 L814.1,2073.2 L816.1,2076.8 L818.1,2080.2 L820.1,2083.4 L822.1,2086.4 L824.1,2089.3 L826.1,2092.0 L828.1,2094.6 L830.1,2097.0 L832.1,2099.4 L834.1,2101.6 L836.1,2103.8 L838.1,2105.8 L840.1,2107.7 L842.1,2109.6 L844.1,2111.3 L846.1,2112.9 L848.1,2114.5 L850.1,2115.9 L852.1,2117.3 L854.1,2118.6 L856.1,2119.8 L858.1,2120.9 L860.1,2122.0 L862.1,2122.9 L864.1,2123.8 L866.1,2124.7 L868.1,2125.4 L870.1,2126.1 L872.1,2126.8 L874.1,2127.4 L876.1,2127.9 L878.1,2128.4 L880.1,2128.8 L882.1,2129.2 L884.1,2129.5 L886.1,2129.8 L888.1,2130.0 L890.1,2130.3 L892.1,2130.4 L894.1,2130.6 L896.1,2130.7 L898.1,2130.8 L900.1,2130.8 L902.1,2130.9 L904.1,2130.9 L906.1,2130.9 L908.1,2130.9 L910.1,2130.9 L912.1,2130.9 L914.1,2130.8 L916.1,2130.8 L918.1,2130.8 L920.1,2130.7 L922.1,2130.7 L924.1,2130.7 L926.1,2130.6 L928.1,2130.6 L930.1,2130.7 L932.1,2130.7 L934.1,2130.7 L936.1,2130.8 L938.1,2130.9 L940.1,2131.0 L942.1,2131.2 L944.1,2131.4 L946.1,2131.6 L946.3,2131.6" fill="none" stroke="#ff0000" stroke-width="3.3" stroke-linejoin="round" stroke-linecap="round" /><path d="M487.4,1953.4V1758M534.5,1864.5V1756" stroke="#000" stroke-width="2" fill="none"/><path d="M486.1,1743.5 Q487.4,1741.8 488.7,1743.5 L488.7,1747.6 L490.1,1748.5 L490.1,1755.0 L492.1,1756.0 L492.1,1760.5 L482.7,1760.5 L482.7,1756.0 L484.7,1755.0 L484.7,1748.5 L486.1,1747.6 Z M533.2,1745.6 Q534.5,1743.9 535.8,1745.6 L535.8,1748.0 L537.2,1748.9 L537.2,1752.6 L539.2,1753.6 L539.2,1757.3 L529.8,1757.3 L529.8,1753.6 L531.8,1752.6 L531.8,1748.9 L533.2,1748.0 Z" fill="#000"/><text transform="translate(85.00,56.00) scale(0.9386496014714901,1)" x="0" y="0" font-size="32.46" font-weight="bold" font-style="normal" letter-spacing="-0.00" fill="#000">Fe2p</text><text x="158.00" y="68.58" font-size="16.64" font-weight="normal" font-style="normal" textLength="25.60" lengthAdjust="spacingAndGlyphs" fill="#000" >3/2</text><text transform="translate(924.00,53.84) scale(0.9763148368412894,1)" x="0" y="0" font-size="34.09" font-weight="bold" font-style="normal" letter-spacing="-0.00" fill="#000">(a)</text><text transform="translate(629.70,118.70) scale(0.9510204081632648,1)" x="0" y="0" font-size="30.00" font-weight="bold" font-style="normal" letter-spacing="0.00" fill="#000">711.9</text><text transform="translate(712.30,203.00) scale(0.9330146341463424,1)" x="0" y="0" font-size="29.71" font-weight="bold" font-style="normal" letter-spacing="0.00" fill="#000">709.3</text><text x="289.50" y="352.80" font-size="25.56" font-weight="bold" font-style="italic" textLength="117.21" lengthAdjust="spacingAndGlyphs" fill="#000" >sattellite</text><text transform="translate(47.30,708.00) scale(0.9050470487596234,1)" x="0" y="0" font-size="30.43" font-weight="bold" font-style="normal" letter-spacing="0.00" fill="#000">735</text><text transform="translate(176.87,708.00) scale(0.9050470487596234,1)" x="0" y="0" font-size="30.43" font-weight="bold" font-style="normal" letter-spacing="0.00" fill="#000">730</text><text transform="translate(306.44,708.00) scale(0.9050470487596234,1)" x="0" y="0" font-size="30.43" font-weight="bold" font-style="normal" letter-spacing="0.00" fill="#000">725</text><text transform="translate(436.01,708.00) scale(0.9050470487596234,1)" x="0" y="0" font-size="30.43" font-weight="bold" font-style="normal" letter-spacing="0.00" fill="#000">720</text><text transform="translate(565.59,708.00) scale(0.9050470487596234,1)" x="0" y="0" font-size="30.43" font-weight="bold" font-style="normal" letter-spacing="0.00" fill="#000">715</text><text transform="translate(695.16,708.00) scale(0.9050470487596234,1)" x="0" y="0" font-size="30.43" font-weight="bold" font-style="normal" letter-spacing="0.00" fill="#000">710</text><text transform="translate(824.73,708.00) scale(0.9050470487596234,1)" x="0" y="0" font-size="30.43" font-weight="bold" font-style="normal" letter-spacing="0.00" fill="#000">705</text><text transform="translate(954.30,708.00) scale(0.9050470487596234,1)" x="0" y="0" font-size="30.43" font-weight="bold" font-style="normal" letter-spacing="0.00" fill="#000">700</text><text transform="translate(387.70,761.50) scale(0.95,1)" x="0" y="0" font-size="28.99" font-weight="bold" font-style="normal" letter-spacing="0.40" fill="#000">Binding Energy (eV)</text><g transform="translate(37.70,437.40) rotate(-90)"><text transform="translate(0.00,0.00) scale(0.910477243994943,1)" x="0" y="0" font-size="32.46" font-weight="bold" font-style="normal" letter-spacing="-0.00" fill="#000">Intensity (a.u.)</text></g><text transform="translate(88.40,823.14) scale(0.9437198443579752,1)" x="0" y="0" font-size="36.20" font-weight="bold" font-style="normal" letter-spacing="0.00" fill="#000">Co2p</text><text transform="translate(919.70,835.74) scale(0.9791891163793079,1)" x="0" y="0" font-size="37.42" font-weight="bold" font-style="normal" letter-spacing="0.00" fill="#000">(b)</text><text transform="translate(617.50,903.10) scale(0.9867348837209309,1)" x="0" y="0" font-size="30.28" font-weight="bold" font-style="normal" letter-spacing="0.00" fill="#000">780.6</text><text transform="translate(175.80,1392.51) scale(1.0,1)" x="0" y="0" font-size="28.87" font-weight="bold" font-style="normal" letter-spacing="1.54" fill="#000">Co2p</text><text x="255.00" y="1405.24" font-size="16.03" font-weight="normal" font-style="normal" textLength="25.40" lengthAdjust="spacingAndGlyphs" fill="#000" >1/2</text><text transform="translate(574.40,1407.42) scale(1.0,1)" x="0" y="0" font-size="28.03" font-weight="bold" font-style="normal" letter-spacing="1.78" fill="#000">Co2p</text><text x="652.20" y="1421.24" font-size="16.03" font-weight="normal" font-style="normal" textLength="25.30" lengthAdjust="spacingAndGlyphs" fill="#000" >3/2</text><text transform="translate(52.30,1491.92) scale(0.95,1)" x="0" y="0" font-size="27.75" font-weight="bold" font-style="normal" letter-spacing="2.62" fill="#000">800</text><text transform="translate(202.92,1491.92) scale(0.95,1)" x="0" y="0" font-size="27.75" font-weight="bold" font-style="normal" letter-spacing="2.62" fill="#000">795</text><text transform="translate(353.53,1491.92) scale(0.95,1)" x="0" y="0" font-size="27.75" font-weight="bold" font-style="normal" letter-spacing="2.62" fill="#000">790</text><text transform="translate(504.15,1491.92) scale(0.95,1)" x="0" y="0" font-size="27.75" font-weight="bold" font-style="normal" letter-spacing="2.62" fill="#000">785</text><text transform="translate(654.77,1491.92) scale(0.95,1)" x="0" y="0" font-size="27.75" font-weight="bold" font-style="normal" letter-spacing="2.62" fill="#000">780</text><text transform="translate(805.38,1491.92) scale(0.95,1)" x="0" y="0" font-size="27.75" font-weight="bold" font-style="normal" letter-spacing="2.62" fill="#000">775</text><text transform="translate(956.00,1491.92) scale(0.95,1)" x="0" y="0" font-size="27.75" font-weight="bold" font-style="normal" letter-spacing="2.62" fill="#000">770</text><text transform="translate(382.60,1547.90) scale(0.95,1)" x="0" y="0" font-size="30.29" font-weight="bold" font-style="normal" letter-spacing="0.99" fill="#000">Binding Energy (eV)</text><g transform="translate(39.90,1174.20) rotate(-90)"><text transform="translate(0.00,0.00) scale(0.941554646405611,1)" x="0" y="0" font-size="34.20" font-weight="bold" font-style="normal" letter-spacing="0.00" fill="#000">Intensity / a.u.</text></g><text transform="translate(98.90,1626.70) scale(0.9317632394046955,1)" x="0" y="0" font-size="35.36" font-weight="bold" font-style="normal" letter-spacing="-0.00" fill="#000">Ni2p</text><text transform="translate(931.80,1619.31) scale(0.941268709907342,1)" x="0" y="0" font-size="37.10" font-weight="bold" font-style="normal" letter-spacing="0.00" fill="#000">(c)</text><text x="459.50" y="1724.00" font-size="28.75" font-weight="normal" font-style="italic" textLength="125.02" lengthAdjust="spacingAndGlyphs" fill="#222" >satellites</text><text transform="translate(139.10,2144.80) scale(0.982823627984914,1)" x="0" y="0" font-size="30.29" font-weight="bold" font-style="normal" letter-spacing="0.00" fill="#000">Ni2p</text><text x="205.90" y="2157.55" font-size="15.34" font-weight="normal" font-style="normal" textLength="24.60" lengthAdjust="spacingAndGlyphs" fill="#000" >1/2</text><text transform="translate(703.20,2197.60) scale(0.9889092232046349,1)" x="0" y="0" font-size="30.29" font-weight="bold" font-style="normal" letter-spacing="0.00" fill="#000">Ni2p</text><text x="769.60" y="2210.24" font-size="15.62" font-weight="normal" font-style="normal" textLength="25.20" lengthAdjust="spacingAndGlyphs" fill="#000" >3/2</text><text transform="translate(59.50,2283.71) scale(0.95,1)" x="0" y="0" font-size="28.87" font-weight="bold" font-style="normal" letter-spacing="2.21" fill="#000">875</text><text transform="translate(209.47,2283.71) scale(0.95,1)" x="0" y="0" font-size="28.87" font-weight="bold" font-style="normal" letter-spacing="2.21" fill="#000">870</text><text transform="translate(359.43,2283.71) scale(0.95,1)" x="0" y="0" font-size="28.87" font-weight="bold" font-style="normal" letter-spacing="2.21" fill="#000">865</text><text transform="translate(509.40,2283.71) scale(0.95,1)" x="0" y="0" font-size="28.87" font-weight="bold" font-style="normal" letter-spacing="2.21" fill="#000">860</text><text transform="translate(659.37,2283.71) scale(0.95,1)" x="0" y="0" font-size="28.87" font-weight="bold" font-style="normal" letter-spacing="2.21" fill="#000">855</text><text transform="translate(809.33,2283.71) scale(0.95,1)" x="0" y="0" font-size="28.87" font-weight="bold" font-style="normal" letter-spacing="2.21" fill="#000">850</text><text transform="translate(959.30,2283.71) scale(0.95,1)" x="0" y="0" font-size="28.87" font-weight="bold" font-style="normal" letter-spacing="2.21" fill="#000">845</text><text transform="translate(388.20,2340.60) scale(0.95,1)" x="0" y="0" font-size="31.30" font-weight="bold" font-style="normal" letter-spacing="0.52" fill="#000">Binding Energy (eV)</text><g transform="translate(31.20,2035.90) rotate(-90)"><text transform="translate(0.00,0.00) scale(0.9205551086082066,1)" x="0" y="0" font-size="35.07" font-weight="bold" font-style="normal" letter-spacing="0.00" fill="#000">Intensity (a.u.)</text></g></svg></body></html>
